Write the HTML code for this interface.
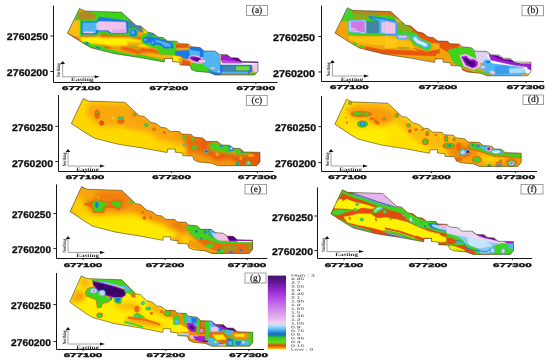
<!DOCTYPE html>
<html><head><meta charset="utf-8"><title>Figure</title>
<style>
html,body{margin:0;padding:0;background:#fff;}
body{width:550px;height:362px;overflow:hidden;}
svg{display:block;}
text{font-family:"Liberation Sans",sans-serif;fill:#111;text-rendering:geometricPrecision;}
.yl{font-weight:bold;font-size:9.8px;stroke:#111;stroke-width:0.3px;}
.xl{font-weight:bold;font-size:5.4px;stroke:#111;stroke-width:0.35px;}
.cp{font-family:"Liberation Serif",serif;font-weight:bold;font-size:5px;fill:#333;}
.pl{font-family:"Liberation Serif",serif;font-size:9.5px;fill:#111;stroke:#111;stroke-width:0.2px;}
.lg{font-size:3px;fill:#333;}
</style></head><body>
<svg width="550" height="362" viewBox="0 0 550 362">
<defs><filter id="bl" x="-5%" y="-5%" width="110%" height="110%"><feGaussianBlur stdDeviation="0.75"/></filter>
<filter id="bl3" x="-5%" y="-5%" width="110%" height="110%"><feGaussianBlur stdDeviation="0.7"/></filter>
<filter id="bl4" filterUnits="userSpaceOnUse" x="0" y="0" width="550" height="362"><feGaussianBlur stdDeviation="1.1"/></filter>
<filter id="bl2" filterUnits="userSpaceOnUse" x="0" y="0" width="550" height="362"><feGaussianBlur stdDeviation="2.2"/></filter>
<linearGradient id="lg" x1="0" y1="0" x2="0" y2="1">
<stop offset="0" stop-color="#45106e"/>
<stop offset="0.08" stop-color="#5e1690"/>
<stop offset="0.2" stop-color="#9428cc"/>
<stop offset="0.3" stop-color="#b24ae4"/>
<stop offset="0.45" stop-color="#cf86ea"/>
<stop offset="0.58" stop-color="#e6b4ec"/>
<stop offset="0.64" stop-color="#f0d0f0"/>
<stop offset="0.68" stop-color="#b4e2f8"/>
<stop offset="0.73" stop-color="#58bcf2"/>
<stop offset="0.79" stop-color="#1a6ad8"/>
<stop offset="0.815" stop-color="#1e8a70"/>
<stop offset="0.84" stop-color="#30c828"/>
<stop offset="0.91" stop-color="#6ed818"/>
<stop offset="0.93" stop-color="#a88414"/>
<stop offset="0.95" stop-color="#e04a10"/>
<stop offset="0.975" stop-color="#f28a0a"/>
<stop offset="1" stop-color="#ffd400"/>
</linearGradient></defs>
<rect width="550" height="362" fill="#fff"/>
<clipPath id="cpa"><polygon points="79.4,8.4 85,11 121.6,12.2 136,25.4 141,26.2 147.5,32 153,33.2 158,37 163,37.6 167.5,41 177,41.2 179,43.6 188.5,44 191,46.6 200.2,47.6 203.8,50.9 215,51.1 219.3,54.4 227.3,54.8 231,57.7 237.8,58 241.8,61.4 258,61.8 258,71.2 254.7,75 215.3,75 209,72.5 196,71.3 191.5,69.4 190,65.5 180,65 180,62.4 172.5,61.7 172.5,58.5 164.8,58.5 164.2,62 140,57.6 115,53.8 91.2,47.9 83.5,43.5 67.4,33.2"/></clipPath>
<g clip-path="url(#cpa)">
<polygon points="79.4,8.4 85,11 121.6,12.2 136,25.4 141,26.2 147.5,32 153,33.2 158,37 163,37.6 167.5,41 177,41.2 179,43.6 188.5,44 191,46.6 200.2,47.6 203.8,50.9 215,51.1 219.3,54.4 227.3,54.8 231,57.7 237.8,58 241.8,61.4 258,61.8 258,71.2 254.7,75 215.3,75 209,72.5 196,71.3 191.5,69.4 190,65.5 180,65 180,62.4 172.5,61.7 172.5,58.5 164.8,58.5 164.2,62 140,57.6 115,53.8 91.2,47.9 83.5,43.5 67.4,33.2" fill="#f0a010"/>
<g filter="url(#bl)">
<polygon points="79.18,8.45 86.18,11.38 121.82,11.89 133.27,20.55 133.27,37.09 78.55,37.09 74.09,21.82" fill="#3fd21f"/>
<polygon points="79.18,8.2 85.55,10.62 82.36,11.64 79.82,11" fill="#f2a20c"/>
<polygon points="67.35,33.02 74.09,21.18 79.82,20.29 80.2,36.46 74.73,35.82" fill="#f8c010" stroke="#f8c010" stroke-width="0.51" stroke-linejoin="round"/>
<polyline points="67.35,33.53 74.73,37.35 84.27,42.18" fill="none" stroke="#e8560e" stroke-width="1.15" stroke-linejoin="round" stroke-linecap="round"/>
<polygon points="80.45,12.65 87.46,11.89 94.46,14.44 94.84,18.25 87.46,19.78 79.18,19.27 77.53,16.09" fill="#b08a1e" stroke="#b08a1e" stroke-width="1.02" stroke-linejoin="round"/>
<polygon points="80.84,36.07 133.27,36.07 133.27,48.55 100.18,48.55 80.84,39" fill="#e8560e"/>
<polygon points="81.09,37.86 133.27,37.35 133.27,43.71 107.82,43.71 93.82,42.18 82.36,40.91" fill="#fff200" stroke="#fff200" stroke-width="0.51" stroke-linejoin="round"/>
<polygon points="81.09,37.35 91.27,37.35 91.27,38.11 81.09,38.36" fill="#f2a20c"/>
<polygon points="107.82,44.47 133.27,43.71 133.27,46.64 110.36,46.64" fill="#f2a20c" stroke="#f2a20c" stroke-width="0.38" stroke-linejoin="round"/>
<polygon points="83,41.16 89.36,41.16 93.82,44.47 104,46.64 104,50.07 83,43.46" fill="#3fd21f" stroke="#3fd21f" stroke-width="0.38" stroke-linejoin="round"/>
<ellipse cx="86.44" cy="43.71" rx="1.53" ry="1.15" fill="#1f78e6" transform="rotate(35 86.44 43.71)"/>
<polygon points="141.4,26.6 149,31 151,36 144,37 141,33" fill="#f2a20c" stroke="#f2a20c" stroke-width="0.8" stroke-linejoin="round"/>
<polygon points="144,30 148,32 149,35 145,34.4" fill="#fff200" stroke="#fff200" stroke-width="0.4" stroke-linejoin="round"/>
<g filter="url(#bl4)">
<polygon points="97,34.4 131,36 144,38 167,50 167,60 131,52.4 115,50 97,40" fill="#f2a20c"/>
<polygon points="121,46.4 139,48 167,57 167,60 135,53 121,49" fill="#e8560e" stroke="#e8560e" stroke-width="0.4" stroke-linejoin="round"/>
<polygon points="131,36 144,38 159,46.4 145,42 131,39" fill="#e8560e" stroke="#e8560e" stroke-width="0.4" stroke-linejoin="round"/>
<polygon points="81,37.6 125,37.6 143,41 155,47 149,48 131,45 105,45 91,43.6 81,41" fill="#fff200" stroke="#fff200" stroke-width="0.8" stroke-linejoin="round"/>
<polygon points="127,42 143,43 159,50 167,54 167,57 145,52.4 129,47" fill="#f2a20c" stroke="#f2a20c" stroke-width="0.6" stroke-linejoin="round"/>
<polygon points="139,45 155,49 167,52.4 167,54 151,51 139,47" fill="#fff200" stroke="#fff200" stroke-width="0.4" stroke-linejoin="round"/>
<polygon points="100,34.4 130,36 130.6,37.6 100,37.2" fill="#e8560e" stroke="#e8560e" stroke-width="0.4" stroke-linejoin="round"/>
</g>
<polyline points="85,43 91,46 115,52.4 139,57.6 167,62.4" fill="none" stroke="#3fd21f" stroke-width="3.2" stroke-linejoin="round" stroke-linecap="round"/>
<ellipse cx="87" cy="43.2" rx="1.6" ry="1.2" fill="#1f78e6"/>
<ellipse cx="98" cy="47.6" rx="2.4" ry="1" fill="#1f78e6" transform="rotate(15 98 47.6)"/>
<polyline points="131,46.4 139,48" fill="none" stroke="#3fd21f" stroke-width="1" stroke-linejoin="round" stroke-linecap="round"/>
<polygon points="80.2,20.29 96.11,20.29 98.66,15.84 126.27,19.53 129.71,21.18 129.71,34.29 110.11,34.93 106.55,32.38 99.55,32.38 97,35.56 80.2,35.56" fill="#3fd21f" stroke="#3fd21f" stroke-width="0.51" stroke-linejoin="round"/>
<polygon points="81.47,21.44 96.62,21.44 99.16,17.11 125.64,20.55 128.44,21.82 128.44,33.02 110.62,33.66 106.8,31.11 98.91,31.11 96.36,34.29 81.47,34.29" fill="#1f78e6" stroke="#1f78e6" stroke-width="0.38" stroke-linejoin="round"/>
<rect x="82.62" y="22.58" width="13.49" height="10.44" rx="1.02" fill="#4fb6f2"/>
<polygon points="97.64,22.07 100.18,21.56 125.64,22.2 126.27,32.26 111.64,32.64 107.82,30.09 97.89,30.09" fill="#f0c2ea" stroke="#f0c2ea" stroke-width="0.64" stroke-linejoin="round"/>
<polygon points="112.27,30.09 125.64,29.46 125.64,32.26 112.91,32.51" fill="#e0a6f0" stroke="#e0a6f0" stroke-width="0.51" stroke-linejoin="round"/>
<rect x="83.38" y="31.49" width="10.44" height="1.78" rx="0.64" fill="#f0c2ea"/>
<polygon points="96.11,23.09 97.64,23.09 97.64,29.46 96.11,29.46" fill="#a8dcf8" stroke="#a8dcf8" stroke-width="0.38" stroke-linejoin="round"/>
<polygon points="129.4,19 135,21.6 141.4,27 142.4,32 138,30.4 130.2,30.4 129.4,24" fill="#3f86a6" stroke="#3f86a6" stroke-width="0.8" stroke-linejoin="round"/>
<ellipse cx="133.4" cy="33" rx="5" ry="5" fill="#3fd21f"/>
<ellipse cx="133.4" cy="33" rx="3.6" ry="3.6" fill="#1f78e6"/>
<ellipse cx="133" cy="32.6" rx="1.8" ry="1.8" fill="#4fb6f2"/>
<polygon points="142.6,35 149,32 167,33 167,48 159,48 151,46 143,43" fill="#3fd21f" stroke="#3fd21f" stroke-width="0.8" stroke-linejoin="round"/>
<polygon points="144.6,38 149,34.4 167,34 167,47 158,45.6 155,46.4 151,44 148,42.4 145,42" fill="#1f78e6" stroke="#1f78e6" stroke-width="0.6" stroke-linejoin="round"/>
<polygon points="151,36 167,35.6 167,45 159,43 156,40 152,39" fill="#4fb6f2" stroke="#4fb6f2" stroke-width="0.4" stroke-linejoin="round"/>
<ellipse cx="146" cy="40" rx="1.2" ry="1.2" fill="#4fb6f2"/>
<ellipse cx="154" cy="41.6" rx="1.4" ry="2.4" fill="#4fb6f2"/>
<g filter="url(#bl4)">
<polygon points="140,42 147.64,43.91 159.09,47.73 159.09,51.55 174.36,54.09 174.36,58.55 164.18,58.55 164.18,61.09 140,56" fill="#f2a20c"/>
<polygon points="140,47.09 151.45,48.36 157.82,50.91 165.46,54.09 156.55,54.09 147.64,52.18 140,52.18" fill="#e8560e" stroke="#e8560e" stroke-width="0.38" stroke-linejoin="round"/>
<polygon points="140,44.55 145.09,44.55 152.73,47.09 147.64,47.47 140,46.45" fill="#fff200" stroke="#fff200" stroke-width="0.25" stroke-linejoin="round"/>
<polygon points="147.64,52.82 165.46,55.36 173.09,56 173.09,57.91 159.09,56.89 147.64,54.09" fill="#f8c010" stroke="#f8c010" stroke-width="0.38" stroke-linejoin="round"/>
</g>
<polyline points="137.45,56.13 152.73,59.44 164.18,61.73" fill="none" stroke="#3fd21f" stroke-width="3.82" stroke-linejoin="round" stroke-linecap="round"/>
<polygon points="141.91,35.64 155.27,35.64 174.36,41.36 176.27,42.64 176.27,55.36 159.09,54.09 157.82,49 147.64,45.82 141.91,42.64" fill="#3fd21f" stroke="#3fd21f" stroke-width="0.38" stroke-linejoin="round"/>
<polygon points="143.18,38.18 147.64,36.53 156.55,37.8 172.46,42.89 173.35,47.98 164.82,48.24 160.36,44.93 155.27,44.16 154,45.69 151.45,44.93 149.55,42 146.36,43.15 143.56,41.62" fill="#1f78e6" stroke="#1f78e6" stroke-width="0.51" stroke-linejoin="round"/>
<polygon points="155.27,39.45 170.55,43.91 170.55,46.45 165.46,46.45 161,43.27 155.91,42" fill="#4fb6f2" stroke="#4fb6f2" stroke-width="0.25" stroke-linejoin="round"/>
<ellipse cx="145.35" cy="39.84" rx="1.27" ry="1.27" fill="#4fb6f2"/>
<ellipse cx="152.47" cy="42.64" rx="1.02" ry="1.53" fill="#4fb6f2"/>
<rect x="175.89" y="44.16" width="12.22" height="3.56" rx="0.51" fill="#e8560e"/>
<polygon points="175.64,50.91 190.27,50.27 190.91,58.55 183.91,58.55 180.73,56 175.64,55.36" fill="#1f78e6" stroke="#1f78e6" stroke-width="0.51" stroke-linejoin="round"/>
<polygon points="189,47.09 199.82,47.73 203.64,50.27 211.27,50.91 211.27,64.27 199.82,63.64 190.27,57.91" fill="#4fb6f2" stroke="#4fb6f2" stroke-width="0.51" stroke-linejoin="round"/>
<polygon points="189,47.09 199.82,47.73 203.64,50.27 208.73,50.65 201.09,51.29 190.91,50.02" fill="#1f78e6" stroke="#1f78e6" stroke-width="0.38" stroke-linejoin="round"/>
<polygon points="173.35,56 179.46,56.64 182,60.46 180.47,61.98 173.35,61.09" fill="#fff200" stroke="#fff200" stroke-width="0.38" stroke-linejoin="round"/>
<polygon points="178.18,58.55 183.91,59.18 184.55,64.27 180.47,64.53 180.22,61.98" fill="#f2a20c" stroke="#f2a20c" stroke-width="0.38" stroke-linejoin="round"/>
<polygon points="182.64,59.82 189.64,61.73 190.91,65.29 182,65.04" fill="#e8560e" stroke="#e8560e" stroke-width="0.38" stroke-linejoin="round"/>
<polygon points="190.27,64.91 194.73,62.36 206.18,63.64 211.27,68.09 211.27,75.73 190.91,70.64" fill="#3fd21f" stroke="#3fd21f" stroke-width="0.38" stroke-linejoin="round"/>
<ellipse cx="196.64" cy="59.44" rx="8.4" ry="3.82" fill="#f0c2ea" transform="rotate(12 196.64 59.44)"/>
<ellipse cx="196" cy="59.18" rx="6.62" ry="2.55" fill="#a01ed2" transform="rotate(14 196 59.18)"/>
<ellipse cx="196.64" cy="59.18" rx="4.45" ry="1.27" fill="#4a0078" transform="rotate(14 196.64 59.18)"/>
<polygon points="203.18,52.09 219.09,52.09 220.36,64.18 221.64,73.09 215.27,73.73 207.64,67.36 202.55,64.18" fill="#4fb6f2" stroke="#4fb6f2" stroke-width="0.51" stroke-linejoin="round"/>
<polygon points="200,48.91 203.18,50.18 203.56,56.55 200,57.18" fill="#1f78e6" stroke="#1f78e6" stroke-width="0.38" stroke-linejoin="round"/>
<polygon points="200,65.46 205.09,66.09 207.64,70.55 214,73.35 214,76.27 200,71.82" fill="#3fd21f" stroke="#3fd21f" stroke-width="0.38" stroke-linejoin="round"/>
<polygon points="207.64,69.91 215.27,72.46 220.36,73.35 220.36,75.64 214,75" fill="#1f78e6" stroke="#1f78e6" stroke-width="0.38" stroke-linejoin="round"/>
<polygon points="220.36,54 230.55,55.02 242,61.38 258.55,61.89 258.55,65.46 221,64.82" fill="#ffffff"/>
<polygon points="221,54.64 227.36,54.64 231.18,57.82 236.91,58.07 241.36,61.13 242,62.91 222.91,62.91 221,60.36" fill="#a01ed2" stroke="#a01ed2" stroke-width="0.38" stroke-linejoin="round"/>
<polygon points="230.55,56.29 238.18,58.07 242.64,61.13 257.91,61.89 257.91,62.91 242,62.4 233.09,59.09" fill="#4a0078" stroke="#4a0078" stroke-width="0.25" stroke-linejoin="round" opacity="0.85"/>
<polygon points="221.64,60.36 242,61.89 242,63.42 221.89,63.16" fill="#c866ea" stroke="#c866ea" stroke-width="0.25" stroke-linejoin="round" opacity="0.7"/>
<polygon points="220.11,64.95 251.55,64.95 252.44,70.55 249,74.11 220.36,74.11" fill="#1f78e6" stroke="#1f78e6" stroke-width="0.51" stroke-linejoin="round"/>
<rect x="222.91" y="66.22" width="12.22" height="5.09" rx="0.76" fill="#3f86a6"/>
<rect x="235.89" y="66.22" width="13.49" height="4.33" rx="0.76" fill="#7ad81e"/>
<polygon points="221.64,71.82 248.36,71.82 247.73,73.86 221.64,73.86" fill="#4fb6f2" stroke="#4fb6f2" stroke-width="0.25" stroke-linejoin="round"/>
<polygon points="252.44,64.18 258.55,64.18 258.55,71.82 256,72.84 252.82,70.55" fill="#f0c2ea" stroke="#f0c2ea" stroke-width="0.38" stroke-linejoin="round"/>
<polygon points="249.38,73.35 256.64,72.84 254.73,75.64 249.38,75.64" fill="#3fd21f" stroke="#3fd21f" stroke-width="0.38" stroke-linejoin="round"/>
<ellipse cx="212.73" cy="68.26" rx="2.29" ry="1.02" fill="#f0c2ea"/>
<ellipse cx="218.84" cy="71.56" rx="1.02" ry="1.02" fill="#f0c2ea"/>
<ellipse cx="201.91" cy="61" rx="3.56" ry="1.53" fill="#f0c2ea"/>
</g>
</g>
<polygon points="79.4,8.4 85,11 121.6,12.2 136,25.4 141,26.2 147.5,32 153,33.2 158,37 163,37.6 167.5,41 177,41.2 179,43.6 188.5,44 191,46.6 200.2,47.6 203.8,50.9 215,51.1 219.3,54.4 227.3,54.8 231,57.7 237.8,58 241.8,61.4 258,61.8 258,71.2 254.7,75 215.3,75 209,72.5 196,71.3 191.5,69.4 190,65.5 180,65 180,62.4 172.5,61.7 172.5,58.5 164.8,58.5 164.2,62 140,57.6 115,53.8 91.2,47.9 83.5,43.5 67.4,33.2" fill="none" stroke="#2a2a1a" stroke-width="0.6" stroke-opacity="0.85"/>
<clipPath id="cpb"><polygon points="347.34,7.7 353.1,10.36 390.74,11.59 405.54,25.08 410.69,25.9 417.37,31.83 423.03,33.06 428.17,36.94 433.31,37.56 437.94,41.03 447.71,41.24 449.76,43.69 459.53,44.1 462.1,46.76 471.56,47.78 475.26,51.16 486.78,51.36 491.2,54.74 499.43,55.15 503.24,58.11 510.23,58.42 514.34,61.89 531,62.3 531,71.91 527.61,75.8 487.09,75.8 480.61,73.24 467.24,72.02 462.62,70.07 461.07,66.09 450.79,65.57 450.79,62.92 443.08,62.2 443.08,58.93 435.16,58.93 434.54,62.51 409.66,58.01 383.95,54.12 359.47,48.09 351.56,43.59 335,33.06"/></clipPath>
<g clip-path="url(#cpb)">
<polygon points="347.34,7.7 353.1,10.36 390.74,11.59 405.54,25.08 410.69,25.9 417.37,31.83 423.03,33.06 428.17,36.94 433.31,37.56 437.94,41.03 447.71,41.24 449.76,43.69 459.53,44.1 462.1,46.76 471.56,47.78 475.26,51.16 486.78,51.36 491.2,54.74 499.43,55.15 503.24,58.11 510.23,58.42 514.34,61.89 531,62.3 531,71.91 527.61,75.8 487.09,75.8 480.61,73.24 467.24,72.02 462.62,70.07 461.07,66.09 450.79,65.57 450.79,62.92 443.08,62.2 443.08,58.93 435.16,58.93 434.54,62.51 409.66,58.01 383.95,54.12 359.47,48.09 351.56,43.59 335,33.06" fill="#f0a010"/>
<g filter="url(#bl)">
<polygon points="347.09,7.73 353.46,11.16 391.64,11.93 399.27,17.27 399.27,36.36 347.09,36.36 341.36,21.09" fill="#3fd21f"/>
<polygon points="351.55,10.65 381.46,11.16 381.46,14.47 366.18,14.73 353.46,13.71" fill="#b08a1e" stroke="#b08a1e" stroke-width="0.51" stroke-linejoin="round"/>
<polygon points="378.91,11.16 391.64,11.67 399.27,16.64 399.27,19.18 389.09,14.73 378.91,14.47" fill="#d8780e" stroke="#d8780e" stroke-width="0.51" stroke-linejoin="round"/>
<polygon points="353.46,14.47 366.18,15.24 370,17.27 366.18,19.82 353.46,19.18" fill="#8fa81e" stroke="#8fa81e" stroke-width="0.51" stroke-linejoin="round"/>
<polygon points="335,32.55 341.36,21.35 348.11,21.09 348.11,35.35 366.18,36.62 399.27,36.62 399.27,50.36 353.46,50.36" fill="#f2a20c" stroke="#f2a20c" stroke-width="0.38" stroke-linejoin="round"/>
<polyline points="335,32.8 343.27,40.18 353.46,48.07" fill="none" stroke="#e8560e" stroke-width="1.02" stroke-linejoin="round" stroke-linecap="round"/>
<polygon points="348.62,36.62 399.27,36.87 399.27,45.91 378.91,45.27 359.82,43.36 350.27,40.18" fill="#fcc010" stroke="#fcc010" stroke-width="0.51" stroke-linejoin="round"/>
<polygon points="364.91,46.55 385.02,50.36 399.27,52.4 399.27,57.36 385.02,55.46 364.91,51" fill="#e8560e" stroke="#e8560e" stroke-width="0.38" stroke-linejoin="round"/>
<polyline points="347.09,8.36 346.84,14.09" fill="none" stroke="#5fc0f0" stroke-width="0.76" stroke-linejoin="round" stroke-linecap="round"/>
<polygon points="349,20.45 364.91,20.07 366.18,21.73 366.18,33.18 363.64,33.82 358.55,32.55 349.64,31.91 348.36,29.36" fill="#a8dcf8" stroke="#a8dcf8" stroke-width="0.64" stroke-linejoin="round"/>
<polyline points="349,20.45 364.91,20.07 366.18,21.73 366.18,33.18 363.64,33.82 358.55,32.55 349.64,31.91 348.36,29.36 349,20.45" fill="none" stroke="#1f78e6" stroke-width="0.51" stroke-linejoin="round" stroke-linecap="round" opacity="0.7"/>
<polygon points="350.91,21.73 364.27,21.47 364.66,32.29 359.18,31.02 351.55,30.26" fill="#d274e6" stroke="#d274e6" stroke-width="0.51" stroke-linejoin="round"/>
<polygon points="351.29,27.46 357.27,29.36 356.64,30.76 351.67,30" fill="#f0c2ea" stroke="#f0c2ea" stroke-width="0.38" stroke-linejoin="round" opacity="0.7"/>
<rect x="366.56" y="21.09" width="12.6" height="12.22" rx="0.38" fill="#3f86a6"/>
<polygon points="368.47,16.25 376.36,17.02 399.27,21.09 399.27,23 378.91,21.09 371.27,19.18" fill="#1f78e6" stroke="#1f78e6" stroke-width="0.51" stroke-linejoin="round"/>
<polygon points="371.91,17.78 399.27,22.11 399.27,23.64 380.18,21.35" fill="#4fb6f2" stroke="#4fb6f2" stroke-width="0.25" stroke-linejoin="round"/>
<polygon points="379.16,19.82 399.27,23 399.27,34.46 379.16,33.82" fill="#4fb6f2" stroke="#4fb6f2" stroke-width="0.38" stroke-linejoin="round"/>
<polyline points="379.42,20.84 379.42,33.82 399.27,34.46" fill="none" stroke="#3c9cee" stroke-width="0.38" stroke-linejoin="round" stroke-linecap="round"/>
<polygon points="381.71,22.11 399.27,23.64 399.27,32.55 381.71,32.55" fill="#f0c2ea" stroke="#f0c2ea" stroke-width="0.38" stroke-linejoin="round"/>
<ellipse cx="354.73" cy="44" rx="2.29" ry="1.78" fill="#3fd21f"/>
<ellipse cx="361.35" cy="46.8" rx="2.8" ry="1.53" fill="#3fd21f"/>
<polygon points="395.18,17.64 410.46,26.29 456.27,44.36 456.27,58.36 385,58.36 385,35.46 396.45,35.46" fill="#f2a20c"/>
<polygon points="404.09,22.09 410.46,26.29 423.18,33.55 435.91,39.91 444.82,40.55 451.18,43.73 456.27,44.11 456.27,48.18 435.91,44.36 423.18,39.27 411.73,31.64" fill="#e8560e" stroke="#e8560e" stroke-width="0.51" stroke-linejoin="round"/>
<polygon points="397.73,22.47 404.09,22.73 412.36,29.09 411.73,34.18 397.73,34.18" fill="#8fa81e" stroke="#8fa81e" stroke-width="0.64" stroke-linejoin="round"/>
<polygon points="397.73,30.36 411.73,31.64 411.73,34.82 397.73,34.82" fill="#3fd21f" stroke="#3fd21f" stroke-width="0.38" stroke-linejoin="round"/>
<polygon points="385,36.09 396.45,39.27 399,46.91 385,48.18" fill="#ffc812" stroke="#ffc812" stroke-width="0.64" stroke-linejoin="round"/>
<polygon points="396.45,39.27 410.46,41.82 414.27,48.18 399,46.91" fill="#f8c010" stroke="#f8c010" stroke-width="0.51" stroke-linejoin="round"/>
<polygon points="385,49.46 410.46,50.73 435.91,53.27 435.91,56.07 385,53.91" fill="#e8560e" stroke="#e8560e" stroke-width="0.38" stroke-linejoin="round"/>
<polygon points="414.27,48.18 427,52 444.82,48.18 444.82,53.27 423.18,53.91" fill="#e8560e" stroke="#e8560e" stroke-width="0.38" stroke-linejoin="round"/>
<polyline points="398.36,47.8 408.55,47.8" fill="none" stroke="#8fa81e" stroke-width="1.15" stroke-linejoin="round" stroke-linecap="round"/>
<polygon points="433.36,43.09 444.82,43.73 444.82,48.18 433.36,48.18" fill="#f8c010" stroke="#f8c010" stroke-width="0.64" stroke-linejoin="round" opacity="0.6"/>
<polygon points="444.56,49.71 456.27,48.18 456.27,57.09 444.56,57.09" fill="#3fd21f" stroke="#3fd21f" stroke-width="0.64" stroke-linejoin="round"/>
<polygon points="385,19.16 397.22,22.47 397.22,34.82 385,34.82" fill="#4fb6f2" stroke="#4fb6f2" stroke-width="0.38" stroke-linejoin="round"/>
<polyline points="385,19.42 396.84,22.73 396.84,34.44 385,34.44" fill="none" stroke="#1f78e6" stroke-width="0.51" stroke-linejoin="round" stroke-linecap="round"/>
<polygon points="385,21.2 395.18,23.36 395.18,33.55 385,33.55" fill="#f0c2ea" stroke="#f0c2ea" stroke-width="0.25" stroke-linejoin="round"/>
<rect x="396.2" y="34.56" width="12.73" height="4.45" rx="1.78" fill="#4fb6f2"/>
<rect x="398.36" y="35.84" width="8.53" height="1.91" rx="0.89" fill="#f0c2ea"/>
<polyline points="413.64,36.73 416.82,41.18 427,46.27" fill="none" stroke="#3fd21f" stroke-width="8.91" stroke-linejoin="round" stroke-linecap="round"/>
<polyline points="414.53,37.75 417.46,41.18 426.36,45.64" fill="none" stroke="#4fb6f2" stroke-width="5.85" stroke-linejoin="round" stroke-linecap="round"/>
<polyline points="414.91,38.64 417.84,41.56 425.73,45" fill="none" stroke="#d8eefc" stroke-width="3.05" stroke-linejoin="round" stroke-linecap="round"/>
<polygon points="440,39 450,43.6 458,44 460,48.4 452,58 440,52" fill="#e8560e" stroke="#e8560e" stroke-width="0.6" stroke-linejoin="round"/>
<polygon points="440,48 450,54 452,63 440,60" fill="#f2a20c" stroke="#f2a20c" stroke-width="0.6" stroke-linejoin="round"/>
<polygon points="448,50 460,47.6 470,48 473,51 480,51.6 476,70 462,67 454,63" fill="#3fd21f" stroke="#3fd21f" stroke-width="0.8" stroke-linejoin="round"/>
<polygon points="452,64 462,67 476,71 490,74.4 494,76.4 480,76.4 462,70" fill="#f2a20c" stroke="#f2a20c" stroke-width="0.8" stroke-linejoin="round"/>
<polyline points="462,66.4 478,71 489,74.4" fill="none" stroke="#3fd21f" stroke-width="1.8" stroke-linejoin="round" stroke-linecap="round"/>
<polyline points="462,69.2 474,72.8 487,76.4" fill="none" stroke="#e8560e" stroke-width="1.4" stroke-linejoin="round" stroke-linecap="round"/>
<polygon points="475,51.6 486.4,52 492.4,55.6 490,63 478,62" fill="#dcd4f2" stroke="#dcd4f2" stroke-width="0.8" stroke-linejoin="round"/>
<polygon points="485,60 500,62 524,65 526,73 520,75 495,75.6 487,72.4 480,68" fill="#4fb6f2" stroke="#4fb6f2" stroke-width="1" stroke-linejoin="round"/>
<polygon points="495,66.4 509,65.6 510,73 496,73.6" fill="#3c9cee" stroke="#3c9cee" stroke-width="0.8" stroke-linejoin="round"/>
<polygon points="509,69 524,68 524,72.4 510,73" fill="#a8dcf8" stroke="#a8dcf8" stroke-width="0.6" stroke-linejoin="round"/>
<polygon points="487,55 500,56 532,63.6 532,73 526,73 524,67 492,63" fill="#ffffff" stroke="#ffffff" stroke-width="0.6" stroke-linejoin="round"/>
<polygon points="489,54.4 493,55.6 498,56 504,59.4 511,60 516,63.4 531,64 531,67 516,65.6 500,62 491,60" fill="#a01ed2" stroke="#a01ed2" stroke-width="0.6" stroke-linejoin="round"/>
<polygon points="492.4,55.6 498,56 504,59.4 511,60 516,63.4 520,63.6 510,61.6 500,59" fill="#4a0078" stroke="#4a0078" stroke-width="0.4" stroke-linejoin="round" opacity="0.8"/>
<polygon points="525.6,64 531.2,64 531.2,70 528,69" fill="#a01ed2" stroke="#a01ed2" stroke-width="0.4" stroke-linejoin="round"/>
<polygon points="460,55.6 466,54.4 473,58 479,60 480,66 474,69.6 464,66" fill="#f0c2ea" stroke="#f0c2ea" stroke-width="1" stroke-linejoin="round"/>
<polygon points="461.6,57 466,56 470,59.6 474,59.6 477.6,62 477,66 473,68 466,65" fill="#a01ed2" stroke="#a01ed2" stroke-width="0.8" stroke-linejoin="round"/>
<polygon points="463.6,58 466.4,58 470,61.6 474.4,61.6 475,65.6 472,66.8 467,63.6" fill="#4a0078" stroke="#4a0078" stroke-width="0.6" stroke-linejoin="round"/>
<ellipse cx="483" cy="67.2" rx="2.4" ry="1.4" fill="#f0c2ea"/>
<ellipse cx="492.4" cy="72.4" rx="2.8" ry="1.6" fill="#f0c2ea" transform="rotate(20 492.4 72.4)"/>
<ellipse cx="488" cy="62" rx="2" ry="1.2" fill="#1f78e6"/>
</g>
</g>
<polygon points="347.34,7.7 353.1,10.36 390.74,11.59 405.54,25.08 410.69,25.9 417.37,31.83 423.03,33.06 428.17,36.94 433.31,37.56 437.94,41.03 447.71,41.24 449.76,43.69 459.53,44.1 462.1,46.76 471.56,47.78 475.26,51.16 486.78,51.36 491.2,54.74 499.43,55.15 503.24,58.11 510.23,58.42 514.34,61.89 531,62.3 531,71.91 527.61,75.8 487.09,75.8 480.61,73.24 467.24,72.02 462.62,70.07 461.07,66.09 450.79,65.57 450.79,62.92 443.08,62.2 443.08,58.93 435.16,58.93 434.54,62.51 409.66,58.01 383.95,54.12 359.47,48.09 351.56,43.59 335,33.06" fill="none" stroke="#2a2a1a" stroke-width="0.6" stroke-opacity="0.85"/>
<clipPath id="cpc"><polygon points="83.18,98.5 88.72,101.12 124.96,102.33 139.22,115.65 144.17,116.46 150.6,122.31 156.05,123.52 161,127.36 165.95,127.96 170.4,131.39 179.81,131.6 181.79,134.02 191.19,134.42 193.67,137.04 202.78,138.05 206.34,141.38 217.43,141.58 221.69,144.91 229.61,145.32 233.27,148.24 240,148.55 243.96,151.98 260,152.38 260,161.87 256.73,165.7 217.73,165.7 211.49,163.18 198.62,161.97 194.16,160.05 192.68,156.11 182.78,155.61 182.78,152.99 175.35,152.28 175.35,149.05 167.73,149.05 167.14,152.58 143.18,148.14 118.43,144.31 94.86,138.36 87.24,133.92 71.3,123.52"/></clipPath>
<g clip-path="url(#cpc)">
<polygon points="83.18,98.5 88.72,101.12 124.96,102.33 139.22,115.65 144.17,116.46 150.6,122.31 156.05,123.52 161,127.36 165.95,127.96 170.4,131.39 179.81,131.6 181.79,134.02 191.19,134.42 193.67,137.04 202.78,138.05 206.34,141.38 217.43,141.58 221.69,144.91 229.61,145.32 233.27,148.24 240,148.55 243.96,151.98 260,152.38 260,161.87 256.73,165.7 217.73,165.7 211.49,163.18 198.62,161.97 194.16,160.05 192.68,156.11 182.78,155.61 182.78,152.99 175.35,152.28 175.35,149.05 167.73,149.05 167.14,152.58 143.18,148.14 118.43,144.31 94.86,138.36 87.24,133.92 71.3,123.52" fill="#f8c000"/>
<g filter="url(#bl2)">
<polygon points="59.64,87.64 269.64,87.64 269.64,183.09 59.64,183.09" fill="#ffd400"/>
<polygon points="93.36,104.18 104.18,103.55 127.09,104.18 139.82,111.82 139.82,124.55 119.46,125.82 104.18,126.46 95.27,123.91 92.09,114.36" fill="#fbb40a" stroke="#fbb40a" stroke-width="1.27" stroke-linejoin="round"/>
<polygon points="90,104.5 130,106 165,128 185,135 190,146 160,139 130,128 100,121 87,115" fill="#f9a80c" stroke="#f9a80c" stroke-width="2" stroke-linejoin="round"/>
<polygon points="80,127.35 97.82,130.91 116.91,130.91 137.27,130.27 155.09,136 155.09,147.46 97.82,144.91" fill="#ffd800" stroke="#ffd800" stroke-width="0.76" stroke-linejoin="round"/>
<polygon points="130,106.27 137.64,114.55 144,117.09 150.36,122.82 163.09,127.91 178.36,130.46 201.27,137.46 201.27,143.18 168.18,134.91 149.09,129.18 130,119" fill="#f8a408" stroke="#f8a408" stroke-width="0.51" stroke-linejoin="round"/>
<polygon points="178.36,132.36 191.09,134.27 201.27,137.46 201.27,153.36 189.82,153.36 187.27,143.18" fill="#f28410" stroke="#f28410" stroke-width="1.27" stroke-linejoin="round"/>
<polygon points="183.46,134.91 191.09,134.91 201.27,137.46 208.91,143.18 208.91,155.91 187.27,155.91 186,143.18" fill="#ec6a0c" stroke="#ec6a0c" stroke-width="1.27" stroke-linejoin="round"/>
<polygon points="200.09,136.45 266.27,136.45 266.27,168.27 214.09,168.27 202.64,150.46" fill="#e8580e"/>
<polygon points="214.09,161.91 228.09,159.36 237,163.18 237,168.27 216.64,168.27" fill="#f59a08" stroke="#f59a08" stroke-width="0.51" stroke-linejoin="round"/>
<polygon points="189.91,152.36 205.18,154.91 214.09,160 217.91,167.64 195,163.18" fill="#f59a08" stroke="#f59a08" stroke-width="1.02" stroke-linejoin="round"/>
<polygon points="208.36,146 214.09,142.18 219.82,145.11 228.09,145.36 231.91,148.93 238.27,149.18 241.46,152.24 251.64,152.75 245.91,154.53 233.18,153.26 224.27,151.47 214.09,150.46" fill="#3fd21f" stroke="#3fd21f" stroke-width="0.64" stroke-linejoin="round"/>
</g>
<g filter="url(#bl)">
<ellipse cx="97.18" cy="114.36" rx="2.8" ry="4.84" fill="#ec6a0c"/>
<ellipse cx="97.18" cy="114.36" rx="1.4" ry="2.42" fill="#e85a10"/>
<ellipse cx="96.93" cy="112.71" rx="1.15" ry="1.15" fill="#3fd21f"/>
<ellipse cx="101.64" cy="123.02" rx="2.8" ry="2.8" fill="#ec6a0c"/>
<ellipse cx="101.64" cy="123.02" rx="1.87" ry="1.87" fill="#e04a10"/>
<ellipse cx="101.64" cy="123.02" rx="0.93" ry="0.93" fill="#b08020"/>
<ellipse cx="120.98" cy="121.36" rx="3.56" ry="2.8" fill="#ec6a0c"/>
<ellipse cx="120.73" cy="118.18" rx="3.31" ry="1.91" fill="#3fd21f"/>
<ellipse cx="120.73" cy="118.18" rx="2.21" ry="1.27" fill="#30c060"/>
<ellipse cx="120.73" cy="118.18" rx="1.1" ry="0.64" fill="#4fb6f2"/>
<ellipse cx="134.73" cy="114.62" rx="1.65" ry="1.65" fill="#ec6a0c"/>
<ellipse cx="134.73" cy="114.62" rx="1.1" ry="1.1" fill="#3fd21f"/>
<ellipse cx="134.73" cy="114.62" rx="0.55" ry="0.55" fill="#3fd21f"/>
<ellipse cx="113.09" cy="117.8" rx="1.78" ry="1.02" fill="#ffd800"/>
<ellipse cx="134.45" cy="114.55" rx="2.16" ry="2.16" fill="#ec6a0c"/>
<ellipse cx="134.45" cy="114.55" rx="1.44" ry="1.44" fill="#3fd21f"/>
<ellipse cx="134.45" cy="114.55" rx="0.72" ry="0.72" fill="#3fd21f"/>
<ellipse cx="146.29" cy="124.98" rx="2.16" ry="2.16" fill="#3fd21f"/>
<ellipse cx="146.29" cy="124.98" rx="1.44" ry="1.44" fill="#3fd21f"/>
<ellipse cx="146.29" cy="124.98" rx="0.72" ry="0.72" fill="#4fb6f2"/>
<ellipse cx="153.93" cy="129.18" rx="1.78" ry="1.78" fill="#ec6a0c"/>
<ellipse cx="153.93" cy="129.18" rx="0.89" ry="0.89" fill="#3fd21f"/>
<ellipse cx="164.36" cy="132.36" rx="1.65" ry="1.65" fill="#ec6a0c"/>
<ellipse cx="184.09" cy="137.84" rx="1.53" ry="2.55" fill="#3fd21f"/>
<ellipse cx="192.36" cy="139.36" rx="1.65" ry="1.65" fill="#3fd21f"/>
<ellipse cx="184.47" cy="144.46" rx="1.53" ry="1.53" fill="#3fd21f"/>
<ellipse cx="184.47" cy="144.46" rx="0.76" ry="0.76" fill="#4fb6f2"/>
<ellipse cx="194.27" cy="147.64" rx="2.42" ry="2.42" fill="#3fd21f"/>
<polygon points="209.64,145.36 214.09,142.82 219.82,145.36 228.09,145.62 231.91,149.18 238.27,149.44 241.46,152.49 251,153 245.91,154.02 233.18,152.75 224.27,150.96 214.09,149.44" fill="#3fd21f" stroke="#3fd21f" stroke-width="0.38" stroke-linejoin="round"/>
<ellipse cx="217.27" cy="154.53" rx="2.04" ry="2.04" fill="#f59a08"/>
<ellipse cx="251" cy="155.55" rx="3.31" ry="1.53" fill="#f59a08"/>
<ellipse cx="240.82" cy="158.35" rx="1.53" ry="2.04" fill="#f59a08"/>
<ellipse cx="233.18" cy="152.36" rx="1.91" ry="1.02" fill="#f59a08"/>
<ellipse cx="221.47" cy="146" rx="1.53" ry="1.53" fill="#1f78e6"/>
<ellipse cx="221.47" cy="146" rx="0.76" ry="0.76" fill="#4fb6f2"/>
<ellipse cx="231.27" cy="148.29" rx="2.8" ry="2.8" fill="#1f78e6"/>
<ellipse cx="231.27" cy="148.29" rx="1.87" ry="1.87" fill="#4fb6f2"/>
<ellipse cx="231.27" cy="148.29" rx="0.93" ry="0.93" fill="#f0c2ea"/>
<ellipse cx="242.35" cy="151.35" rx="1.53" ry="1.53" fill="#1f78e6"/>
<ellipse cx="242.35" cy="151.35" rx="0.76" ry="0.76" fill="#4fb6f2"/>
<ellipse cx="206.45" cy="151.09" rx="2.42" ry="2.42" fill="#3fd21f"/>
<ellipse cx="206.45" cy="151.09" rx="1.81" ry="1.81" fill="#4fb6f2"/>
<ellipse cx="206.45" cy="151.09" rx="1.21" ry="1.21" fill="#a01ed2"/>
<ellipse cx="206.45" cy="151.09" rx="0.6" ry="0.6" fill="#a01ed2"/>
<ellipse cx="248.46" cy="162.93" rx="2.55" ry="2.55" fill="#3fd21f"/>
<ellipse cx="248.46" cy="162.93" rx="1.7" ry="1.7" fill="#4fb6f2"/>
<ellipse cx="248.46" cy="162.93" rx="0.85" ry="0.85" fill="#f0c2ea"/>
<ellipse cx="237.64" cy="163.82" rx="2.16" ry="2.16" fill="#3fd21f"/>
<ellipse cx="237.64" cy="163.82" rx="1.44" ry="1.44" fill="#1f78e6"/>
<ellipse cx="237.64" cy="163.82" rx="0.72" ry="0.72" fill="#4fb6f2"/>
<ellipse cx="195" cy="148.55" rx="1.27" ry="1.27" fill="#3fd21f"/>
</g>
</g>
<polygon points="83.18,98.5 88.72,101.12 124.96,102.33 139.22,115.65 144.17,116.46 150.6,122.31 156.05,123.52 161,127.36 165.95,127.96 170.4,131.39 179.81,131.6 181.79,134.02 191.19,134.42 193.67,137.04 202.78,138.05 206.34,141.38 217.43,141.58 221.69,144.91 229.61,145.32 233.27,148.24 240,148.55 243.96,151.98 260,152.38 260,161.87 256.73,165.7 217.73,165.7 211.49,163.18 198.62,161.97 194.16,160.05 192.68,156.11 182.78,155.61 182.78,152.99 175.35,152.28 175.35,149.05 167.73,149.05 167.14,152.58 143.18,148.14 118.43,144.31 94.86,138.36 87.24,133.92 71.3,123.52" fill="none" stroke="#2a2a1a" stroke-width="0.6" stroke-opacity="0.85"/>
<clipPath id="cpd"><polygon points="346.54,99.3 352.01,101.92 387.81,103.13 401.89,116.43 406.78,117.23 413.13,123.08 418.51,124.29 423.4,128.11 428.29,128.72 432.69,132.14 441.98,132.35 443.94,134.76 453.23,135.17 455.68,137.79 464.67,138.79 468.19,142.12 479.15,142.32 483.35,145.65 491.18,146.05 494.79,148.97 501.45,149.27 505.36,152.7 521.2,153.1 521.2,162.57 517.97,166.4 479.44,166.4 473.28,163.88 460.57,162.67 456.17,160.76 454.7,156.83 444.92,156.32 444.92,153.71 437.58,153 437.58,149.78 430.05,149.78 429.47,153.3 405.8,148.87 381.35,145.04 358.08,139.1 350.55,134.66 334.8,124.29"/></clipPath>
<g clip-path="url(#cpd)">
<polygon points="346.54,99.3 352.01,101.92 387.81,103.13 401.89,116.43 406.78,117.23 413.13,123.08 418.51,124.29 423.4,128.11 428.29,128.72 432.69,132.14 441.98,132.35 443.94,134.76 453.23,135.17 455.68,137.79 464.67,138.79 468.19,142.12 479.15,142.32 483.35,145.65 491.18,146.05 494.79,148.97 501.45,149.27 505.36,152.7 521.2,153.1 521.2,162.57 517.97,166.4 479.44,166.4 473.28,163.88 460.57,162.67 456.17,160.76 454.7,156.83 444.92,156.32 444.92,153.71 437.58,153 437.58,149.78 430.05,149.78 429.47,153.3 405.8,148.87 381.35,145.04 358.08,139.1 350.55,134.66 334.8,124.29" fill="#f8c000"/>
<g filter="url(#bl2)">
<polygon points="323.64,87.64 546.37,87.64 546.37,183.09 323.64,183.09" fill="#ffdc00"/>
<polygon points="349.09,108.25 368.18,107.36 391.09,109.27 401.27,114.36 391.09,121.36 383.46,124.55 372,123.27 368.18,118.18 352.91,117.55 347.82,113.09" fill="#f89a0a" stroke="#f89a0a" stroke-width="1.27" stroke-linejoin="round"/>
<polygon points="352.91,102.91 386.64,102.91 401.27,111.82 401.27,116.91 380.91,108 355.46,106.73" fill="#fbb60a" stroke="#fbb60a" stroke-width="0.64" stroke-linejoin="round"/>
<polygon points="345.27,127.35 361.82,130.27 380.91,129 401.27,128.36 419.09,136 419.09,147.46 361.82,144.91" fill="#ffec00" stroke="#ffec00" stroke-width="0.76" stroke-linejoin="round"/>
<polygon points="392,108.18 400.91,117.09 411.09,123.45 426.36,128.55 440.36,131.73 451.82,135.55 463.27,138.73 463.27,153.36 436.55,148.91 423.82,147 411.09,136.82 399.64,125.36" fill="#fcbc08" stroke="#fcbc08" stroke-width="0.76" stroke-linejoin="round"/>
<polygon points="389.45,129.18 404.73,134.27 417.46,141.91 428.91,148.91 428.91,155.91 389.45,147" fill="#ffe000" stroke="#ffe000" stroke-width="0.76" stroke-linejoin="round"/>
<polygon points="455,137.73 526.27,137.73 526.27,168.27 470.27,168.27 455,163.18" fill="#f8a408"/>
<polygon points="447.36,144.09 462.64,144.09 471.55,149.18 486.82,152.36 495.73,155.55 486.82,158.09 470.27,155.55 460.09,161.91 447.36,156.82" fill="#ee7a0c" stroke="#ee7a0c" stroke-width="0.51" stroke-linejoin="round" opacity="0.75"/>
<polygon points="493.18,160.64 508.46,158.09 518.64,159.36 518.64,165.73 495.73,166.36" fill="#ee7a0c" stroke="#ee7a0c" stroke-width="0.51" stroke-linejoin="round" opacity="0.7"/>
<polygon points="474.09,152.36 493.18,155.55 505.91,157.46 503.36,161.91 486.82,163.18 480.46,156.82" fill="#ffd000" stroke="#ffd000" stroke-width="0.51" stroke-linejoin="round"/>
</g>
<g filter="url(#bl)">
<ellipse cx="361.18" cy="113.98" rx="10.82" ry="3.05" fill="#ec6a0c"/>
<ellipse cx="357.36" cy="113.73" rx="4.58" ry="1.65" fill="#3fd21f"/>
<ellipse cx="365.89" cy="113.85" rx="3.05" ry="1.53" fill="#3fd21f"/>
<ellipse cx="350.11" cy="103.16" rx="1.91" ry="1.91" fill="#ec6a0c"/>
<ellipse cx="350.11" cy="103.16" rx="1.27" ry="1.27" fill="#3fd21f"/>
<ellipse cx="350.11" cy="103.16" rx="0.64" ry="0.64" fill="#3fd21f"/>
<ellipse cx="362.46" cy="124.04" rx="5.6" ry="3.82" fill="#ec6a0c"/>
<ellipse cx="362.46" cy="124.04" rx="4.84" ry="3.18" fill="#3fd21f"/>
<ellipse cx="362.46" cy="124.04" rx="3.22" ry="2.12" fill="#1f78e6"/>
<ellipse cx="362.46" cy="124.04" rx="1.61" ry="1.06" fill="#4fb6f2"/>
<ellipse cx="396.82" cy="115.38" rx="2.16" ry="2.16" fill="#ec6a0c"/>
<ellipse cx="396.82" cy="115.38" rx="1.44" ry="1.44" fill="#3fd21f"/>
<ellipse cx="396.82" cy="115.38" rx="0.72" ry="0.72" fill="#3fd21f"/>
<ellipse cx="384.09" cy="119.07" rx="1.78" ry="1.78" fill="#ec6a0c"/>
<ellipse cx="384.09" cy="119.07" rx="0.89" ry="0.89" fill="#3fd21f"/>
<ellipse cx="375.56" cy="121.11" rx="1.65" ry="1.65" fill="#ec6a0c"/>
<ellipse cx="375.56" cy="121.11" rx="0.83" ry="0.83" fill="#3fd21f"/>
<ellipse cx="347.18" cy="109.27" rx="0.89" ry="0.89" fill="#ec6a0c"/>
<ellipse cx="347.18" cy="122.64" rx="1.02" ry="1.02" fill="#ec6a0c"/>
<ellipse cx="345.91" cy="117.55" rx="0.76" ry="0.76" fill="#ec6a0c"/>
<ellipse cx="377.09" cy="122.64" rx="2.8" ry="1.78" fill="#ec6a0c" transform="rotate(30 377.09 122.64)"/>
<ellipse cx="372" cy="118.82" rx="2.55" ry="1.27" fill="#ec6a0c"/>
<ellipse cx="396.84" cy="115.56" rx="2.16" ry="2.16" fill="#ec6a0c"/>
<ellipse cx="396.84" cy="115.56" rx="1.44" ry="1.44" fill="#3fd21f"/>
<ellipse cx="396.84" cy="115.56" rx="0.72" ry="0.72" fill="#3fd21f"/>
<ellipse cx="408.55" cy="125.36" rx="2.42" ry="2.42" fill="#ec6a0c"/>
<ellipse cx="408.55" cy="125.36" rx="1.61" ry="1.61" fill="#3fd21f"/>
<ellipse cx="408.55" cy="125.36" rx="0.81" ry="0.81" fill="#3fd21f"/>
<ellipse cx="409.82" cy="131.09" rx="2.04" ry="2.04" fill="#ec6a0c"/>
<ellipse cx="409.82" cy="131.09" rx="1.02" ry="1.02" fill="#c86a10"/>
<ellipse cx="415.93" cy="129.56" rx="1.65" ry="1.65" fill="#ec6a0c"/>
<ellipse cx="415.93" cy="129.56" rx="0.83" ry="0.83" fill="#3fd21f"/>
<ellipse cx="427.26" cy="133.64" rx="2.04" ry="2.55" fill="#ec6a0c"/>
<ellipse cx="428.02" cy="131.98" rx="1.27" ry="1.27" fill="#3fd21f"/>
<ellipse cx="425.35" cy="141.66" rx="3.44" ry="3.44" fill="#ec6a0c"/>
<ellipse cx="425.35" cy="141.66" rx="2.29" ry="2.29" fill="#3fd21f"/>
<ellipse cx="425.35" cy="141.66" rx="1.15" ry="1.15" fill="#3fd21f"/>
<ellipse cx="446.09" cy="138.73" rx="2.29" ry="3.56" fill="#ec6a0c"/>
<ellipse cx="446.09" cy="138.73" rx="1.27" ry="2.55" fill="#3fd21f"/>
<ellipse cx="453.98" cy="139.62" rx="1.78" ry="1.78" fill="#ec6a0c"/>
<ellipse cx="453.98" cy="139.62" rx="1.19" ry="1.19" fill="#3fd21f"/>
<ellipse cx="453.98" cy="139.62" rx="0.59" ry="0.59" fill="#3fd21f"/>
<ellipse cx="448.64" cy="145.73" rx="6.36" ry="3.05" fill="#ec6a0c"/>
<ellipse cx="449.27" cy="145.47" rx="4.58" ry="2.04" fill="#3fd21f"/>
<ellipse cx="449.27" cy="145.47" rx="2.29" ry="1.02" fill="#1f78e6"/>
<ellipse cx="435.91" cy="134.91" rx="1.78" ry="1.02" fill="#ec6a0c"/>
<ellipse cx="422.55" cy="129.82" rx="1.53" ry="1.02" fill="#ec6a0c"/>
<polygon points="467.09,146 471.55,142.82 480.46,145.36 489.36,146 492.55,149.18 500.18,149.44 504,153 514.82,153.64 521.18,155.55 521.18,158.35 511,157.46 493.18,156.18 480.46,151.73 469,149.18" fill="#ec6a0c" stroke="#ec6a0c" stroke-width="0.76" stroke-linejoin="round"/>
<polygon points="468.36,145.36 471.55,143.58 480.46,145.62 489.36,146.13 492.55,149.18 500.18,149.44 504,153 514.82,153.64 521.18,154.91 521.18,157.46 511,156.31 493.18,155.04 480.46,150.46 470.27,147.91" fill="#3fd21f" stroke="#3fd21f" stroke-width="0.51" stroke-linejoin="round"/>
<polygon points="480.46,146.38 489.36,146.64 492.55,149.44 500.18,149.82 503.11,153 497,153.76 486.82,151.09 481.09,148.55" fill="#4fb6f2" stroke="#4fb6f2" stroke-width="0.51" stroke-linejoin="round"/>
<ellipse cx="488.73" cy="148.8" rx="2.55" ry="2.55" fill="#f0c2ea"/>
<ellipse cx="488.73" cy="148.8" rx="1.7" ry="1.7" fill="#a01ed2"/>
<ellipse cx="488.73" cy="148.8" rx="0.85" ry="0.85" fill="#a01ed2"/>
<ellipse cx="495.98" cy="151.86" rx="3.82" ry="1.27" fill="#ffffff"/>
<ellipse cx="495.98" cy="151.86" rx="2.29" ry="0.76" fill="#f0c2ea"/>
<ellipse cx="477.91" cy="146" rx="1.65" ry="1.65" fill="#1f78e6"/>
<ellipse cx="477.91" cy="146" rx="0.83" ry="0.83" fill="#4fb6f2"/>
<ellipse cx="472.82" cy="145.36" rx="1.15" ry="1.15" fill="#1f78e6"/>
<ellipse cx="464.55" cy="152.36" rx="5.73" ry="4.58" fill="#ec6a0c"/>
<ellipse cx="462.89" cy="152.36" rx="3.82" ry="3.82" fill="#3fd21f"/>
<ellipse cx="462.89" cy="152.36" rx="2.86" ry="2.86" fill="#4fb6f2"/>
<ellipse cx="462.89" cy="152.36" rx="1.91" ry="1.91" fill="#f0c2ea"/>
<ellipse cx="462.89" cy="152.36" rx="0.95" ry="0.95" fill="#f0c2ea"/>
<ellipse cx="467.73" cy="151.73" rx="1.91" ry="1.91" fill="#4fb6f2"/>
<ellipse cx="467.73" cy="151.73" rx="1.27" ry="1.27" fill="#4a0078"/>
<ellipse cx="467.73" cy="151.73" rx="0.64" ry="0.64" fill="#4a0078"/>
<ellipse cx="476.64" cy="159.62" rx="5.09" ry="3.82" fill="#ec6a0c"/>
<ellipse cx="476.64" cy="159.62" rx="4.07" ry="2.93" fill="#3fd21f"/>
<ellipse cx="476.64" cy="159.62" rx="2.72" ry="1.95" fill="#3fd21f"/>
<ellipse cx="476.64" cy="159.62" rx="1.36" ry="0.98" fill="#40c890"/>
<ellipse cx="489.36" cy="165.98" rx="2.29" ry="2.29" fill="#3fd21f"/>
<ellipse cx="489.36" cy="165.98" rx="1.15" ry="1.15" fill="#1f78e6"/>
<ellipse cx="498.91" cy="164.71" rx="3.31" ry="3.31" fill="#ec6a0c"/>
<ellipse cx="498.91" cy="165.09" rx="2.42" ry="2.42" fill="#3fd21f"/>
<ellipse cx="498.91" cy="165.09" rx="1.61" ry="1.61" fill="#4fb6f2"/>
<ellipse cx="498.91" cy="165.09" rx="0.81" ry="0.81" fill="#a01ed2"/>
<ellipse cx="511.64" cy="162.93" rx="5.35" ry="4.07" fill="#ec6a0c"/>
<ellipse cx="511.64" cy="163.18" rx="4.2" ry="3.05" fill="#3fd21f"/>
<ellipse cx="511.64" cy="163.18" rx="3.15" ry="2.29" fill="#4fb6f2"/>
<ellipse cx="511.64" cy="163.18" rx="2.1" ry="1.53" fill="#f0c2ea"/>
<ellipse cx="511.64" cy="163.18" rx="1.05" ry="0.76" fill="#a01ed2"/>
<ellipse cx="500.82" cy="161.02" rx="1.78" ry="1.78" fill="#ec6a0c"/>
<ellipse cx="500.82" cy="161.02" rx="0.89" ry="0.89" fill="#90a020"/>
<ellipse cx="458.82" cy="146.64" rx="2.55" ry="3.82" fill="#ec6a0c"/>
<ellipse cx="458.82" cy="159.36" rx="3.18" ry="1.91" fill="#ec6a0c"/>
</g>
</g>
<polygon points="346.54,99.3 352.01,101.92 387.81,103.13 401.89,116.43 406.78,117.23 413.13,123.08 418.51,124.29 423.4,128.11 428.29,128.72 432.69,132.14 441.98,132.35 443.94,134.76 453.23,135.17 455.68,137.79 464.67,138.79 468.19,142.12 479.15,142.32 483.35,145.65 491.18,146.05 494.79,148.97 501.45,149.27 505.36,152.7 521.2,153.1 521.2,162.57 517.97,166.4 479.44,166.4 473.28,163.88 460.57,162.67 456.17,160.76 454.7,156.83 444.92,156.32 444.92,153.71 437.58,153 437.58,149.78 430.05,149.78 429.47,153.3 405.8,148.87 381.35,145.04 358.08,139.1 350.55,134.66 334.8,124.29" fill="none" stroke="#2a2a1a" stroke-width="0.6" stroke-opacity="0.85"/>
<clipPath id="cpe"><polygon points="81.58,186.6 86.94,189.21 121.97,190.41 135.75,203.65 140.53,204.45 146.75,210.27 152.02,211.47 156.8,215.29 161.59,215.89 165.89,219.3 174.98,219.5 176.9,221.91 185.99,222.31 188.38,224.91 197.19,225.92 200.63,229.23 211.35,229.43 215.46,232.74 223.12,233.14 226.66,236.05 233.17,236.35 237,239.76 252.5,240.16 252.5,249.59 249.34,253.4 211.64,253.4 205.61,250.89 193.17,249.69 188.86,247.78 187.43,243.87 177.86,243.37 177.86,240.76 170.68,240.06 170.68,236.85 163.31,236.85 162.74,240.36 139.58,235.95 115.65,232.14 92.88,226.22 85.51,221.81 70.1,211.47"/></clipPath>
<g clip-path="url(#cpe)">
<polygon points="81.58,186.6 86.94,189.21 121.97,190.41 135.75,203.65 140.53,204.45 146.75,210.27 152.02,211.47 156.8,215.29 161.59,215.89 165.89,219.3 174.98,219.5 176.9,221.91 185.99,222.31 188.38,224.91 197.19,225.92 200.63,229.23 211.35,229.43 215.46,232.74 223.12,233.14 226.66,236.05 233.17,236.35 237,239.76 252.5,240.16 252.5,249.59 249.34,253.4 211.64,253.4 205.61,250.89 193.17,249.69 188.86,247.78 187.43,243.87 177.86,243.37 177.86,240.76 170.68,240.06 170.68,236.85 163.31,236.85 162.74,240.36 139.58,235.95 115.65,232.14 92.88,226.22 85.51,221.81 70.1,211.47" fill="#f8b000"/>
<g filter="url(#bl2)">
<polygon points="57.64,176.64 280.37,176.64 280.37,272.09 57.64,272.09" fill="#f8a408"/>
<polygon points="70.11,210.36 75.45,199.55 79.27,195.73 83.09,200.82 89.46,212.91 102.18,214.82 135.27,213.55 165.82,225 165.82,241.55 95.82,233.91" fill="#ffd000" stroke="#ffd000" stroke-width="0.76" stroke-linejoin="round"/>
<polygon points="79.27,216.35 95.82,218.64 114.91,218 135.27,217.36 178.55,233.91 153.09,249.18 95.82,233.91" fill="#ffe800" stroke="#ffe800" stroke-width="0.76" stroke-linejoin="round"/>
<polygon points="94.55,192.16 122.55,190.89 135.27,198.91 135.27,203.36 123.82,209.73 106,208.46 102.18,212.91 93.27,212.91 91.36,207.18 83.09,204 91.36,200.82 95.82,198.27" fill="#f0800c" stroke="#f0800c" stroke-width="1.02" stroke-linejoin="round"/>
<polygon points="128,195.64 136.91,203.91 147.09,210.91 163,217.91 177,221.09 187.82,224.53 199.27,224.91 199.27,233.18 166.18,224.91 147.09,219.18 128,207.73" fill="#f59208" stroke="#f59208" stroke-width="0.51" stroke-linejoin="round"/>
<polygon points="171.27,219.82 184,221.73 187.82,224.91 187.82,231.91 180.18,233.18 172.55,226.82" fill="#f0820c" stroke="#f0820c" stroke-width="0.76" stroke-linejoin="round"/>
<polygon points="190.09,219.64 256.27,223.45 256.27,255.27 204.09,255.27 195.18,243.82 190.09,231.09" fill="#ec6a0c"/>
<polygon points="181.18,233.64 190.09,237.46 204.09,248.91 204.09,255.27 181.18,248.91" fill="#ffd000" stroke="#ffd000" stroke-width="0.51" stroke-linejoin="round"/>
</g>
<g filter="url(#bl)">
<polygon points="91.36,202.09 97.09,199.29 104.73,201.84 109.82,202.73 116.18,199.55 121.91,200.56 121.53,207.18 118.73,210.36 115.55,207.82 106,207.18 103.46,212.53 93.53,212.53 91.75,207.18 84.36,204" fill="#ec6a0c" stroke="#ec6a0c" stroke-width="1.02" stroke-linejoin="round"/>
<polygon points="92.64,202.35 97.09,200.56 103.46,202.85 108.55,203.36 103.46,206.67 102.18,211.26 94.55,211.26 93.27,207.18" fill="#3fd21f" stroke="#3fd21f" stroke-width="0.64" stroke-linejoin="round"/>
<ellipse cx="96.84" cy="204.89" rx="1.65" ry="3.05" fill="#1f78e6"/>
<polygon points="110.46,203.36 116.18,201.07 120.64,201.58 120,206.67 118.09,208.46 114.91,205.4" fill="#3fd21f" stroke="#3fd21f" stroke-width="0.51" stroke-linejoin="round"/>
<ellipse cx="131.71" cy="202.35" rx="1.65" ry="1.65" fill="#3fd21f"/>
<polygon points="96.46,195.09 99,194.71 99.64,199.55 97.35,199.29" fill="#f59a08" stroke="#f59a08" stroke-width="0.25" stroke-linejoin="round"/>
<ellipse cx="131.56" cy="202" rx="1.78" ry="1.78" fill="#3fd21f"/>
<ellipse cx="142.64" cy="212.18" rx="1.53" ry="1.53" fill="#ec6a0c"/>
<ellipse cx="144.29" cy="217.91" rx="1.91" ry="1.91" fill="#ec6a0c"/>
<ellipse cx="150.91" cy="217.65" rx="1.4" ry="1.4" fill="#ec6a0c"/>
<ellipse cx="179.55" cy="225.55" rx="1.02" ry="1.02" fill="#a09020"/>
<polygon points="188.82,239.36 197.73,243.82 216.82,251.46 216.82,254.64 188.82,246.36" fill="#f59a08" stroke="#f59a08" stroke-width="0.51" stroke-linejoin="round"/>
<polygon points="185.64,225.75 197.09,224.98 200.27,228.55 209.18,229.18 210.46,236.18 215.55,239.36 223.18,241.53 252.46,241.53 252.46,243.31 223.18,243.31 216.82,242.8 207.91,239.75 197.73,238.98 190.09,233.89" fill="#3fd21f" stroke="#3fd21f" stroke-width="0.64" stroke-linejoin="round"/>
<ellipse cx="196.2" cy="231.35" rx="1.4" ry="1.4" fill="#1f78e6"/>
<ellipse cx="205.11" cy="232.11" rx="2.04" ry="1.53" fill="#3f7fd0"/>
<ellipse cx="201.29" cy="238.73" rx="1.15" ry="1.15" fill="#1f78e6"/>
<polygon points="208.67,228.93 211.73,228.29 214.91,232.36 218.35,233 217.84,237.71 213.64,237.2 209.44,235.16" fill="#1f78e6" stroke="#1f78e6" stroke-width="0.51" stroke-linejoin="round"/>
<polygon points="209.95,229.82 211.98,229.31 214.91,233 218.35,233.64 217.84,237.46 214.02,236.69 210.46,234.65" fill="#4fb6f2" stroke="#4fb6f2" stroke-width="0.38" stroke-linejoin="round"/>
<polygon points="212.36,233 216.18,233.89 218.35,238.09 223.18,240.26 218.09,240.26 213.64,236.82" fill="#a8dcf8" stroke="#a8dcf8" stroke-width="0.38" stroke-linejoin="round"/>
<polygon points="215.55,233 223.18,233 227,236.44 229.29,240.76 220.64,240.26 217.07,237.46" fill="#f0c2ea" stroke="#f0c2ea" stroke-width="0.51" stroke-linejoin="round"/>
<polygon points="227,236.18 234,236.18 237.18,239.36 252.46,239.49 252.46,241.02 235.91,241.02 229.29,241.02" fill="#a01ed2" stroke="#a01ed2" stroke-width="0.38" stroke-linejoin="round"/>
<polygon points="228.02,236.95 234,236.69 236.16,239.24 235.4,240.26 229.55,240.26" fill="#4a0078" stroke="#4a0078" stroke-width="0.38" stroke-linejoin="round"/>
<polygon points="237.44,241.15 252.46,241.15 252.46,242.04 237.44,242.04" fill="#ffffff" stroke="#ffffff" stroke-width="0.13" stroke-linejoin="round"/>
<polygon points="221.91,245.73 235.91,245.35 236.55,250.18 223.18,250.44" fill="#a89020" stroke="#a89020" stroke-width="1.02" stroke-linejoin="round"/>
<polygon points="246.09,243.18 252.46,243.18 252.46,250.18 247.36,250.18" fill="#a89020" stroke="#a89020" stroke-width="0.76" stroke-linejoin="round"/>
<ellipse cx="209.82" cy="246.11" rx="4.07" ry="2.42" fill="#3fd21f"/>
<polygon points="217.07,249.16 223.18,249.16 224.46,254 217.07,254" fill="#3fd21f" stroke="#3fd21f" stroke-width="0.51" stroke-linejoin="round"/>
<ellipse cx="219.11" cy="249.93" rx="1.27" ry="1.27" fill="#1f78e6"/>
<ellipse cx="231.46" cy="252.47" rx="1.27" ry="1.27" fill="#1f78e6"/>
<ellipse cx="241" cy="250.18" rx="1.53" ry="1.02" fill="#1f78e6"/>
</g>
</g>
<polygon points="81.58,186.6 86.94,189.21 121.97,190.41 135.75,203.65 140.53,204.45 146.75,210.27 152.02,211.47 156.8,215.29 161.59,215.89 165.89,219.3 174.98,219.5 176.9,221.91 185.99,222.31 188.38,224.91 197.19,225.92 200.63,229.23 211.35,229.43 215.46,232.74 223.12,233.14 226.66,236.05 233.17,236.35 237,239.76 252.5,240.16 252.5,249.59 249.34,253.4 211.64,253.4 205.61,250.89 193.17,249.69 188.86,247.78 187.43,243.87 177.86,243.37 177.86,240.76 170.68,240.06 170.68,236.85 163.31,236.85 162.74,240.36 139.58,235.95 115.65,232.14 92.88,226.22 85.51,221.81 70.1,211.47" fill="none" stroke="#2a2a1a" stroke-width="0.6" stroke-opacity="0.85"/>
<clipPath id="cpf"><polygon points="342.3,189.8 347.67,192.32 382.75,193.49 396.56,206.29 401.35,207.07 407.58,212.69 412.85,213.86 417.64,217.54 422.44,218.12 426.75,221.42 435.86,221.62 437.77,223.94 446.88,224.33 449.28,226.85 458.1,227.82 461.55,231.02 472.28,231.22 476.4,234.42 484.07,234.81 487.62,237.62 494.14,237.91 497.97,241.21 513.5,241.6 513.5,250.71 510.34,254.4 472.57,254.4 466.53,251.98 454.07,250.81 449.76,248.97 448.32,245.19 438.73,244.7 438.73,242.18 431.54,241.5 431.54,238.4 424.16,238.4 423.59,241.79 400.39,237.52 376.43,233.84 353.61,228.11 346.23,223.85 330.8,213.86"/></clipPath>
<g clip-path="url(#cpf)">
<polygon points="342.3,189.8 347.67,192.32 382.75,193.49 396.56,206.29 401.35,207.07 407.58,212.69 412.85,213.86 417.64,217.54 422.44,218.12 426.75,221.42 435.86,221.62 437.77,223.94 446.88,224.33 449.28,226.85 458.1,227.82 461.55,231.02 472.28,231.22 476.4,234.42 484.07,234.81 487.62,237.62 494.14,237.91 497.97,241.21 513.5,241.6 513.5,250.71 510.34,254.4 472.57,254.4 466.53,251.98 454.07,250.81 449.76,248.97 448.32,245.19 438.73,244.7 438.73,242.18 431.54,241.5 431.54,238.4 424.16,238.4 423.59,241.79 400.39,237.52 376.43,233.84 353.61,228.11 346.23,223.85 330.8,213.86" fill="#fff000"/>
<g filter="url(#bl)">
<polygon points="319.64,178.64 542.37,178.64 542.37,274.09 319.64,274.09" fill="#e24c10"/>
<polygon points="348.91,191.36 382.64,192.64 404.91,210.46 397.27,207.27 376.91,200.91 364.18,196.71" fill="#e6b4ea"/>
<polyline points="342.29,190.73 343.82,192.64 351.46,195.82 364.18,199.76 376.91,204.47 389.64,208.55 401.09,211.73" fill="none" stroke="#3fd21f" stroke-width="2.55" stroke-linejoin="round" stroke-linecap="round"/>
<polyline points="342.29,190.09 338.09,199.64" fill="none" stroke="#3fd21f" stroke-width="1.78" stroke-linejoin="round" stroke-linecap="round"/>
<polyline points="350.82,193.15 364.18,197.22 376.91,201.8 389.64,205.62 401.09,209.82" fill="none" stroke="#1f78e6" stroke-width="1.15" stroke-linejoin="round" stroke-linecap="round"/>
<polyline points="353.36,194.55 364.18,198.11 376.91,202.69 389.64,206.51 400.46,210.46" fill="none" stroke="#4fb6f2" stroke-width="0.89" stroke-linejoin="round" stroke-linecap="round"/>
<polygon points="334.91,204.35 338.73,199.89 341.91,199.25 342.55,201.8 346.36,199.25 355.27,202.44 364.18,204.35 374.36,207.53 371.82,208.55 361.64,207.4 356.55,209.69 345.09,208.42 334.27,207.91" fill="#fff200" stroke="#fff200" stroke-width="0.64" stroke-linejoin="round"/>
<polygon points="331.09,213.26 334.91,209.44 342.55,210.07 351.46,210.71 345.09,212.49 338.73,214.91 333.64,214.53" fill="#3fd21f" stroke="#3fd21f" stroke-width="0.64" stroke-linejoin="round"/>
<ellipse cx="340.64" cy="211.47" rx="1.27" ry="1.27" fill="#4fb6f2"/>
<polygon points="343.82,217.07 351.46,215.8 357.82,213.89 370.55,213.89 376.91,218.35 387.09,217.71 397.27,220.26 415.09,227 415.09,238.46 370.55,227.26 357.82,224.71 347.64,222.16" fill="#fff200" stroke="#fff200" stroke-width="0.64" stroke-linejoin="round"/>
<polygon points="348.91,216.82 350.82,218.35 349.55,220" fill="#e24c10" stroke="#e24c10" stroke-width="0.51" stroke-linejoin="round"/>
<polygon points="375.64,217.46 376.91,220.64 375,220" fill="#e24c10" stroke="#e24c10" stroke-width="0.51" stroke-linejoin="round"/>
<polyline points="341.27,220 348.91,224.71 370.55,231.07" fill="none" stroke="#3fd21f" stroke-width="1.27" stroke-linejoin="round" stroke-linecap="round"/>
<polyline points="342.55,221.91 348.91,225.73 370.55,232.35" fill="none" stroke="#4fb6f2" stroke-width="0.76" stroke-linejoin="round" stroke-linecap="round"/>
<ellipse cx="357.18" cy="204.35" rx="1.78" ry="1.78" fill="#3fd21f"/>
<ellipse cx="357.18" cy="204.35" rx="0.89" ry="0.89" fill="#4fb6f2"/>
<ellipse cx="355.02" cy="209.82" rx="1.91" ry="1.91" fill="#3fd21f"/>
<ellipse cx="355.02" cy="209.82" rx="1.27" ry="1.27" fill="#3fd21f"/>
<ellipse cx="355.02" cy="209.82" rx="0.64" ry="0.64" fill="#4fb6f2"/>
<ellipse cx="361.89" cy="219.62" rx="2.04" ry="2.04" fill="#3fd21f"/>
<ellipse cx="361.89" cy="219.62" rx="1.02" ry="1.02" fill="#4fb6f2"/>
<ellipse cx="377.55" cy="209.44" rx="4.84" ry="3.18" fill="#3fd21f" transform="rotate(-25 377.55 209.44)"/>
<polyline points="375.38,211.09 376.91,209.18 380.09,207.91" fill="none" stroke="#a8dcf8" stroke-width="2.04" stroke-linejoin="round" stroke-linecap="round"/>
<ellipse cx="384.8" cy="211.73" rx="1.91" ry="1.91" fill="#3fd21f"/>
<ellipse cx="384.8" cy="211.73" rx="0.95" ry="0.95" fill="#4fb6f2"/>
<ellipse cx="390.91" cy="219.36" rx="1.02" ry="1.02" fill="#3fd21f"/>
<ellipse cx="373.09" cy="212.36" rx="1.02" ry="1.02" fill="#3fd21f"/>
<ellipse cx="382" cy="208.55" rx="1.02" ry="1.02" fill="#4fb6f2"/>
<polygon points="385.45,220.46 395.64,219.18 407.09,222.36 419.82,228.09 430,231.91 441.46,234.46 449.09,237 459.27,241.07 432.55,242.35 431.91,237.64 423.64,237.64 413.46,234.46 400.73,229.36 385.45,226.82" fill="#fff200" stroke="#fff200" stroke-width="0.64" stroke-linejoin="round"/>
<polygon points="404.55,213.07 410.27,214.09 413.46,217.27 409.64,217.91 405.82,216" fill="#fff200" stroke="#fff200" stroke-width="0.51" stroke-linejoin="round"/>
<polyline points="385.45,228.35 400.73,231.91 413.46,236.36 424.91,239.8" fill="none" stroke="#e24c10" stroke-width="1.78" stroke-linejoin="round" stroke-linecap="round"/>
<polyline points="385.45,230.64 400.73,234.2 413.46,238.91 421.09,241.46" fill="none" stroke="#3fd21f" stroke-width="1.78" stroke-linejoin="round" stroke-linecap="round"/>
<polyline points="385.45,232.55 400.73,236.36 413.46,241.07" fill="none" stroke="#4fb6f2" stroke-width="1.15" stroke-linejoin="round" stroke-linecap="round"/>
<polyline points="385.45,233.95 400.73,238.02 408.36,241.07" fill="none" stroke="#1f78e6" stroke-width="0.76" stroke-linejoin="round" stroke-linecap="round"/>
<polygon points="388,206.2 395.64,207.22 400.73,207.73 407.09,212.82 415.36,216.64 423.64,220.71 433.82,220.96 437,224.02 438.91,226.18 449.09,228.35 449.09,233.18 438.91,232.16 430,228.73 419.82,227.46 413.46,223.64 407.09,219.82 403.27,214.09 395.64,210.78 388,209.76" fill="#3fd21f" stroke="#3fd21f" stroke-width="0.51" stroke-linejoin="round"/>
<ellipse cx="403.27" cy="215.36" rx="1.15" ry="1.15" fill="#4fb6f2"/>
<ellipse cx="410.91" cy="219.44" rx="1.4" ry="2.29" fill="#a8dcf8" transform="rotate(-20 410.91 219.44)"/>
<ellipse cx="418.55" cy="225.55" rx="1.02" ry="1.02" fill="#4fb6f2"/>
<ellipse cx="421.35" cy="222.36" rx="0.76" ry="0.76" fill="#1f78e6"/>
<ellipse cx="424.91" cy="226.18" rx="1.02" ry="1.02" fill="#1f78e6"/>
<ellipse cx="390.55" cy="219.18" rx="1.02" ry="1.02" fill="#3fd21f"/>
<ellipse cx="413.46" cy="222.36" rx="1.02" ry="1.02" fill="#4fb6f2"/>
<polygon points="428.47,223.64 433.82,223.26 438.91,224.91 449.09,226.82 459.27,228.35 459.27,233.18 449.09,231.91 438.91,229.62 431.27,227.84" fill="#1f78e6" stroke="#1f78e6" stroke-width="0.51" stroke-linejoin="round"/>
<polygon points="431.91,224.53 438.91,225.55 449.09,227.46 459.27,229.11 459.27,232.16 449.09,230.89 438.91,228.86 433.18,226.82" fill="#a8dcf8" stroke="#a8dcf8" stroke-width="0.38" stroke-linejoin="round"/>
<polygon points="438.91,225.29 445.27,224.53 449.09,227.07 459.27,227.46 459.27,231.27 449.09,229.62 441.46,227.84" fill="#e6b4ea" stroke="#e6b4ea" stroke-width="0.38" stroke-linejoin="round"/>
<polygon points="438.91,233.18 449.09,233.82 459.27,236.36 459.27,239.55 449.09,238.27 441.46,235.47" fill="#e24c10" stroke="#e24c10" stroke-width="0.51" stroke-linejoin="round"/>
<polygon points="446.73,238.46 455.64,244.82 464.55,251.18 460.73,253.73 446.73,249.91" fill="#fff200"/>
<polygon points="446.73,225.73 458.18,227.25 461.36,230.82 470.91,230.82 474.73,234 482.36,234 485.55,237.18 493.18,237.44 497,240.75 513.55,241.64 513.55,255 475.36,255 467.09,249.91 463.27,243.55 455.64,237.18 446.73,234" fill="#86c8f4"/>
<polygon points="446.73,225.73 458.18,227.25 461.36,230.82 470.91,230.82 474.73,234 482.36,234 485.55,237.18 493.18,237.44 497,240.75 513.55,241.64 513.55,243.55 498.91,243.55 486.18,241.26 473.46,238.46 460.73,235.91 446.73,233.36" fill="#e8d8f6" stroke="#e8d8f6" stroke-width="0.38" stroke-linejoin="round"/>
<polygon points="475.36,234 482.36,234 485.55,237.18 493.18,237.44 497,240.75 498.91,241.26 490,239.09 483.64,237.82 478.55,235.91" fill="#a01ed2" stroke="#a01ed2" stroke-width="0.38" stroke-linejoin="round"/>
<polygon points="479.82,234.13 482.36,234.13 485.55,237.18 493.18,237.56 495.73,239.73 490,238.46 484.27,237.18" fill="#4a0078" stroke="#4a0078" stroke-width="0.25" stroke-linejoin="round" opacity="0.8"/>
<polygon points="504,241.26 513.55,241.76 513.55,243.55 506.55,243.29" fill="#a01ed2" stroke="#a01ed2" stroke-width="0.38" stroke-linejoin="round"/>
<polygon points="467.09,237.82 486.18,241.26 491.27,245.46 479.82,248 469.64,244.82" fill="#c4e6fa" stroke="#c4e6fa" stroke-width="1.02" stroke-linejoin="round"/>
<polygon points="446.73,233.62 455.64,235.91 462,239.73 465.82,244.18 479.82,249.91 479.82,255.64 460.73,251.18 446.73,244.82" fill="#3fd21f" stroke="#3fd21f" stroke-width="0.51" stroke-linejoin="round"/>
<polygon points="446.73,237.82 453.09,238.46 456.91,242.27 451.82,244.18 446.73,243.55" fill="#e24c10" stroke="#e24c10" stroke-width="0.51" stroke-linejoin="round"/>
<polygon points="463.91,244.82 467.09,247.62 475.36,251.82 474.98,254.49 464.55,251.44 455.64,247.36 449.91,244.82 458.18,245.84" fill="#e24c10" stroke="#e24c10" stroke-width="0.25" stroke-linejoin="round"/>
<polygon points="449.91,245.46 456.91,247.11 464.55,250.16 464.29,251.44 450.29,247.11" fill="#fff200" stroke="#fff200" stroke-width="0.25" stroke-linejoin="round"/>
<polyline points="455.64,240.36 460.73,241.64 464.55,244.18 465.82,248 473.46,249.91 486.18,251.82 490,249.27 496.36,246.35" fill="none" stroke="#1f78e6" stroke-width="0.89" stroke-linejoin="round" stroke-linecap="round"/>
<polyline points="456.91,242.02 463.27,243.55" fill="none" stroke="#4fb6f2" stroke-width="1.27" stroke-linejoin="round" stroke-linecap="round"/>
<polygon points="490,249.91 495.09,245.46 501.46,243.55 513.55,244.18 513.55,251.18 510.36,254.75 490,254.75" fill="#3fd21f" stroke="#3fd21f" stroke-width="0.51" stroke-linejoin="round"/>
<polygon points="507.82,244.18 513.55,244.18 513.55,249.27 509.09,248.64" fill="#4fb6f2" stroke="#4fb6f2" stroke-width="0.38" stroke-linejoin="round"/>
<ellipse cx="492.55" cy="250.55" rx="2.55" ry="3.05" fill="#4fb6f2"/>
<ellipse cx="492.55" cy="250.55" rx="1.7" ry="2.04" fill="#f0c2ea"/>
<ellipse cx="492.55" cy="250.55" rx="0.85" ry="1.02" fill="#f0c2ea"/>
<ellipse cx="502.98" cy="250.93" rx="2.16" ry="3.05" fill="#4fb6f2"/>
<ellipse cx="502.98" cy="250.93" rx="1.44" ry="2.04" fill="#f0c2ea"/>
<ellipse cx="502.98" cy="250.93" rx="0.72" ry="1.02" fill="#f0c2ea"/>
<polygon points="477.91,253.73 490,253.98 490,255.26 477.91,255.26" fill="#e24c10" stroke="#e24c10" stroke-width="0.25" stroke-linejoin="round"/>
</g>
</g>
<polygon points="342.3,189.8 347.67,192.32 382.75,193.49 396.56,206.29 401.35,207.07 407.58,212.69 412.85,213.86 417.64,217.54 422.44,218.12 426.75,221.42 435.86,221.62 437.77,223.94 446.88,224.33 449.28,226.85 458.1,227.82 461.55,231.02 472.28,231.22 476.4,234.42 484.07,234.81 487.62,237.62 494.14,237.91 497.97,241.21 513.5,241.6 513.5,250.71 510.34,254.4 472.57,254.4 466.53,251.98 454.07,250.81 449.76,248.97 448.32,245.19 438.73,244.7 438.73,242.18 431.54,241.5 431.54,238.4 424.16,238.4 423.59,241.79 400.39,237.52 376.43,233.84 353.61,228.11 346.23,223.85 330.8,213.86" fill="none" stroke="#2a2a1a" stroke-width="0.6" stroke-opacity="0.85"/>
<clipPath id="cpg"><polygon points="81.23,275.8 86.61,278.55 121.77,279.82 135.6,293.77 140.4,294.62 146.65,300.75 151.93,302.02 156.73,306.03 161.54,306.67 165.86,310.26 174.99,310.47 176.91,313.01 186.03,313.43 188.44,316.18 197.27,317.24 200.73,320.72 211.49,320.94 215.62,324.42 223.31,324.85 226.86,327.91 233.39,328.23 237.24,331.82 252.8,332.25 252.8,342.18 249.63,346.2 211.78,346.2 205.73,343.56 193.24,342.29 188.92,340.28 187.48,336.16 177.87,335.63 177.87,332.88 170.66,332.14 170.66,328.76 163.27,328.76 162.69,332.46 139.44,327.81 115.43,323.79 92.56,317.55 85.17,312.9 69.7,302.02"/></clipPath>
<g clip-path="url(#cpg)">
<polygon points="81.23,275.8 86.61,278.55 121.77,279.82 135.6,293.77 140.4,294.62 146.65,300.75 151.93,302.02 156.73,306.03 161.54,306.67 165.86,310.26 174.99,310.47 176.91,313.01 186.03,313.43 188.44,316.18 197.27,317.24 200.73,320.72 211.49,320.94 215.62,324.42 223.31,324.85 226.86,327.91 233.39,328.23 237.24,331.82 252.8,332.25 252.8,342.18 249.63,346.2 211.78,346.2 205.73,343.56 193.24,342.29 188.92,340.28 187.48,336.16 177.87,335.63 177.87,332.88 170.66,332.14 170.66,328.76 163.27,328.76 162.69,332.46 139.44,327.81 115.43,323.79 92.56,317.55 85.17,312.9 69.7,302.02" fill="#ffd800"/>
<g filter="url(#bl2)">
<polygon points="57.64,265.64 280.37,265.64 280.37,361.09 57.64,361.09" fill="#ffee00"/>
<polygon points="70.36,300.64 75.45,291.09 83.09,291.09 85.64,297.46 81.82,301.91 75.45,302.55" fill="#f8a608" stroke="#f8a608" stroke-width="0.64" stroke-linejoin="round"/>
<polygon points="81.18,275.82 89.46,279.64 91.36,287.27 85.64,288.55 79.27,286" fill="#fbb808" stroke="#fbb808" stroke-width="0.51" stroke-linejoin="round"/>
<polygon points="112.36,303.82 135.27,301.27 135.27,310.18 121.27,310.18" fill="#fbc008" stroke="#fbc008" stroke-width="0.51" stroke-linejoin="round"/>
<polygon points="133.64,305.91 140,305.27 141.27,312.27 136.18,313.55" fill="#fbb008" stroke="#fbb008" stroke-width="0.76" stroke-linejoin="round"/>
<polygon points="126,318 138.73,317.36 151.46,321.18 168,326.91 151.46,326.27 126,321.18" fill="#f89408" stroke="#f89408" stroke-width="0.51" stroke-linejoin="round"/>
<polygon points="146.36,300.82 164.18,309.09 178.18,312.91 176.91,319.91 164.18,316.09 151.46,311" fill="#fbb008" stroke="#fbb008" stroke-width="0.76" stroke-linejoin="round"/>
</g>
<g filter="url(#bl)">
<polygon points="90.98,279.38 122.55,279.64 135.27,289.18 135.27,292.11 125.09,287.27 102.18,281.93 92.26,281.42" fill="#3fd21f" stroke="#3fd21f" stroke-width="0.38" stroke-linejoin="round"/>
<polygon points="87.55,289.18 92,287.27 98.36,287.91 106,291.09 109.82,294.91 111.35,299.36 107.27,302.04 102.18,302.8 101.16,306.62 97.73,307.26 96.46,299.36 86.91,295.67 85.64,292.36" fill="#ec6a0c" stroke="#ec6a0c" stroke-width="1.78" stroke-linejoin="round"/>
<polygon points="87.55,289.18 92,287.27 98.36,287.91 106,291.09 109.82,294.91 111.35,299.36 107.27,302.04 102.18,302.8 101.16,306.62 97.73,307.26 96.46,299.36 86.91,295.67 85.64,292.36" fill="#3fd21f" stroke="#3fd21f" stroke-width="0.51" stroke-linejoin="round"/>
<polygon points="106.26,293.89 110.07,294.65 109.82,297.46 106.64,297.2" fill="#f8a008" stroke="#f8a008" stroke-width="0.38" stroke-linejoin="round"/>
<polygon points="92.51,280.91 102.18,282.82 114.91,286.13 126.11,290.07 125.6,295.16 121.91,297.84 114.66,298.09 105.49,295.16 97.86,290.58 93.27,285.24" fill="#a01ed2" stroke="#a01ed2" stroke-width="0.38" stroke-linejoin="round"/>
<polygon points="93.27,281.93 102.18,283.84 114.91,287.15 125.35,290.71 124.84,294.65 121.53,297.07 114.91,297.33 106,294.53 98.36,289.95 94.04,284.98" fill="#3c0068" stroke="#3c0068" stroke-width="0.25" stroke-linejoin="round"/>
<polyline points="100.91,281.67 114.91,284.73 125.09,287.78 135.27,292.11" fill="none" stroke="#4fb6f2" stroke-width="1.65" stroke-linejoin="round" stroke-linecap="round"/>
<polyline points="104.73,282.95 114.91,285.11 125.09,288.29 132.73,291.35" fill="none" stroke="#a8dcf8" stroke-width="0.64" stroke-linejoin="round" stroke-linecap="round"/>
<polygon points="114.27,297.46 121.91,297.46 121.27,303.18 117.46,303.82 114.27,301.91" fill="#3fd21f" stroke="#3fd21f" stroke-width="0.51" stroke-linejoin="round"/>
<polygon points="115.55,298.09 120.64,298.09 118.98,302.29 115.93,301.53" fill="#1f78e6" stroke="#1f78e6" stroke-width="0.38" stroke-linejoin="round"/>
<ellipse cx="111.09" cy="298.47" rx="1.15" ry="1.15" fill="#1f78e6"/>
<ellipse cx="93.53" cy="290.84" rx="3.82" ry="2.67" fill="#4fb6f2"/>
<ellipse cx="93.53" cy="290.84" rx="2.86" ry="2" fill="#f0c2ea"/>
<ellipse cx="93.53" cy="290.84" rx="1.91" ry="1.34" fill="#f0c2ea"/>
<ellipse cx="93.53" cy="290.84" rx="0.95" ry="0.67" fill="#a01ed2"/>
<ellipse cx="102.18" cy="293.13" rx="3.44" ry="3.31" fill="#4fb6f2"/>
<ellipse cx="102.18" cy="293.13" rx="2.58" ry="2.48" fill="#a8dcf8"/>
<ellipse cx="102.18" cy="293.13" rx="1.72" ry="1.65" fill="#f0c2ea"/>
<ellipse cx="102.18" cy="293.13" rx="0.86" ry="0.83" fill="#f0c2ea"/>
<polygon points="130.18,291.09 135.27,291.09 135.27,297.46 131.46,296.82" fill="#ec6a0c" stroke="#ec6a0c" stroke-width="0.51" stroke-linejoin="round"/>
<ellipse cx="99.64" cy="315.27" rx="3.31" ry="2.8" fill="#ec6a0c"/>
<ellipse cx="99.64" cy="315.53" rx="2.29" ry="2.29" fill="#3fd21f"/>
<ellipse cx="99.64" cy="315.53" rx="1.15" ry="1.15" fill="#4fb6f2"/>
<ellipse cx="79.91" cy="295.55" rx="1.02" ry="1.02" fill="#f08008"/>
<ellipse cx="78" cy="291.09" rx="0.76" ry="0.76" fill="#f08008"/>
<polygon points="124.73,283 131.09,288.09 134.91,293.18 131.09,294.45 124.73,291.91" fill="#3fd21f" stroke="#3fd21f" stroke-width="0.51" stroke-linejoin="round"/>
<polygon points="124.73,284.91 129.18,288.09 129.82,290.89 124.73,290" fill="#4fb6f2" stroke="#4fb6f2" stroke-width="0.38" stroke-linejoin="round"/>
<ellipse cx="142.93" cy="303.11" rx="2.04" ry="2.04" fill="#3fd21f"/>
<ellipse cx="142.93" cy="303.11" rx="1.36" ry="1.36" fill="#4fb6f2"/>
<ellipse cx="142.93" cy="303.11" rx="0.68" ry="0.68" fill="#4fb6f2"/>
<ellipse cx="148.27" cy="308.46" rx="2.8" ry="2.04" fill="#3fd21f"/>
<ellipse cx="148.27" cy="308.46" rx="1.87" ry="1.36" fill="#3fd21f"/>
<ellipse cx="148.27" cy="308.46" rx="0.93" ry="0.68" fill="#4fb6f2"/>
<ellipse cx="168.64" cy="313.29" rx="5.35" ry="3.56" fill="#ec6a0c"/>
<ellipse cx="166.73" cy="312.91" rx="2.55" ry="2.55" fill="#3fd21f"/>
<ellipse cx="171.56" cy="313.29" rx="1.27" ry="2.04" fill="#3fd21f"/>
<ellipse cx="136.82" cy="309.09" rx="2.55" ry="3.31" fill="#ec6a0c"/>
<ellipse cx="151.46" cy="313.29" rx="1.53" ry="1.53" fill="#ec6a0c"/>
<ellipse cx="161.64" cy="311.64" rx="1.53" ry="1.53" fill="#ec6a0c"/>
<polygon points="133.64,314.82 137.45,312.91 140.64,314.82 145.09,317.62 141.27,318 134.91,317.62" fill="#3fd21f" stroke="#3fd21f" stroke-width="0.51" stroke-linejoin="round"/>
<ellipse cx="136.82" cy="315.84" rx="1.78" ry="1.15" fill="#4fb6f2"/>
<polyline points="128.55,317.62 145.09,319.66 159.09,324.36" fill="none" stroke="#ec6a0c" stroke-width="2.04" stroke-linejoin="round" stroke-linecap="round"/>
<polyline points="124.73,321.82 133.64,323.98 142.55,326.91" fill="none" stroke="#3fd21f" stroke-width="1.53" stroke-linejoin="round" stroke-linecap="round"/>
<polyline points="124.73,323.22 133.64,325.51" fill="none" stroke="#4fb6f2" stroke-width="0.64" stroke-linejoin="round" stroke-linecap="round"/>
<polygon points="173.35,321.18 176.91,317.36 180.73,314.18 185.82,313.55 187.09,321.18 182,326.91 173.35,326.91" fill="#3fd21f" stroke="#3fd21f" stroke-width="0.51" stroke-linejoin="round"/>
<polygon points="175,321.18 178.18,318.64 180.98,319.27 180.09,323.47 175.64,323.98" fill="#1f78e6" stroke="#1f78e6" stroke-width="0.38" stroke-linejoin="round"/>
<polygon points="180.47,315.46 182.64,314.82 182,319.27" fill="#ffee00" stroke="#ffee00" stroke-width="0.25" stroke-linejoin="round"/>
</g>
<g filter="url(#bl3)">
<polygon points="180.91,309.09 253.46,326.91 253.46,347.27 203.82,347.27 179.64,335.82 179.64,321.82" fill="#f08a0c" stroke="#f08a0c" stroke-width="0.38" stroke-linejoin="round"/>
<polygon points="172,309.73 178.36,310.11 179,317.36 172.64,318" fill="#f08a0c" stroke="#f08a0c" stroke-width="0.51" stroke-linejoin="round"/>
<polygon points="172,325 179.64,324.36 187.27,328.18 188.55,331.36 179.64,332 172,329.46" fill="#ffee00" stroke="#ffee00" stroke-width="0.51" stroke-linejoin="round"/>
<polygon points="173.02,316.73 177.09,315.2 179.89,318 179.64,324.36 174.55,325" fill="#3fd21f" stroke="#3fd21f" stroke-width="0.51" stroke-linejoin="round"/>
<polygon points="174.55,320.29 178.36,319.53 178.62,324.11 175.18,324.36" fill="#4fb6f2" stroke="#4fb6f2" stroke-width="0.38" stroke-linejoin="round"/>
<polygon points="183.2,313.93 187.02,313.16 187.91,323.09 184.09,323.09" fill="#3fd21f" stroke="#3fd21f" stroke-width="0.51" stroke-linejoin="round"/>
<polygon points="186.25,315.2 189.82,316.09 197.46,316.73 198.09,326.91 192.36,325 187.27,325.64" fill="#4fb6f2" stroke="#4fb6f2" stroke-width="0.51" stroke-linejoin="round"/>
<polygon points="191.09,317.75 197.2,318.25 197.46,323.09 192.36,322.45" fill="#1f78e6" stroke="#1f78e6" stroke-width="0.38" stroke-linejoin="round"/>
<polygon points="187.02,322.84 191.73,322.45 192.36,326.65 187.27,326.91" fill="#f0c2ea" stroke="#f0c2ea" stroke-width="0.38" stroke-linejoin="round"/>
<polygon points="187.02,323.35 192.62,322.84 196.44,327.55 195.67,331.75 191.09,331.49 187.53,327.93" fill="#a01ed2" stroke="#a01ed2" stroke-width="0.64" stroke-linejoin="round"/>
<ellipse cx="191.73" cy="327.55" rx="2.55" ry="1.65" fill="#3c0068" transform="rotate(40 191.73 327.55)"/>
<polygon points="179,333.02 188.55,333.53 188.55,335.31 179.38,335.06" fill="#a8dcf8" stroke="#a8dcf8" stroke-width="0.25" stroke-linejoin="round"/>
<polygon points="196.82,319.02 199.75,319.91 199.75,333.91 196.95,333.27" fill="#3fd21f" stroke="#3fd21f" stroke-width="0.38" stroke-linejoin="round"/>
<polygon points="199.75,320.55 206.11,321.18 207,333.27 200,333.91" fill="#e8560e" stroke="#e8560e" stroke-width="0.51" stroke-linejoin="round"/>
<polygon points="201.02,321.82 204.46,321.82 204.84,326.91 201.53,326.91" fill="#b08a1e" stroke="#b08a1e" stroke-width="0.38" stroke-linejoin="round"/>
<ellipse cx="201.53" cy="330.73" rx="1.65" ry="1.65" fill="#f0c2ea"/>
<ellipse cx="201.53" cy="330.73" rx="1.1" ry="1.1" fill="#a01ed2"/>
<ellipse cx="201.53" cy="330.73" rx="0.55" ry="0.55" fill="#a01ed2"/>
<polygon points="206.11,319.91 212.73,320.29 215.91,323.73 224.18,324.36 225.46,333.91 214,334.55 206.62,332.64" fill="#3fd21f" stroke="#3fd21f" stroke-width="0.38" stroke-linejoin="round"/>
<polygon points="207.38,320.8 212.73,321.05 215.91,324.36 222.91,325 223.55,332.64 214.64,333.27 207.89,331.36" fill="#4fb6f2" stroke="#4fb6f2" stroke-width="0.38" stroke-linejoin="round"/>
<polygon points="210.18,322.07 215.91,325 216.8,329.46 211.71,330.09 210.18,326.27" fill="#f0c2ea" stroke="#f0c2ea" stroke-width="0.51" stroke-linejoin="round"/>
<ellipse cx="221" cy="329.46" rx="1.78" ry="1.78" fill="#1f78e6"/>
<polygon points="215.02,323.09 224.18,324.11 227.36,327.55 234.36,327.93 238.18,330.98 253.46,331.36 253.46,333.91 238.18,333.53 228,331.36 222.91,328.82 216.55,326.27" fill="#a01ed2" stroke="#a01ed2" stroke-width="0.38" stroke-linejoin="round"/>
<polygon points="222.27,324.11 224.18,324.36 227.36,327.67 234.36,328.18 237.55,330.73 231.82,330.09 225.46,327.55" fill="#3c0068" stroke="#3c0068" stroke-width="0.25" stroke-linejoin="round" opacity="0.85"/>
<polygon points="209.55,333.53 216.55,332.64 229.27,335.82 231.82,340.91 222.91,341.55 214,339" fill="#ec6a0c" stroke="#ec6a0c" stroke-width="0.64" stroke-linejoin="round"/>
<polygon points="215.27,334.8 222.91,335.18 226.98,338.36 220.36,339" fill="#ffee00" stroke="#ffee00" stroke-width="0.51" stroke-linejoin="round"/>
<polygon points="222.91,329.46 228,331.36 238.18,333.91 243.27,334.55 243.27,342.18 233.09,342.18 229.27,335.82" fill="#3fd21f" stroke="#3fd21f" stroke-width="0.51" stroke-linejoin="round"/>
<polygon points="225.46,331.36 231.82,333.53 234.36,337.35 230.55,337.35" fill="#4fb6f2" stroke="#4fb6f2" stroke-width="0.38" stroke-linejoin="round"/>
<polygon points="189.56,335.82 197.46,335.82 198.73,339 191.09,338.36" fill="#f0c2ea" stroke="#f0c2ea" stroke-width="0.51" stroke-linejoin="round"/>
<polygon points="193.64,336.58 208.27,336.84 208.27,342.18 201.27,341.93 195.55,339.64" fill="#a01ed2" stroke="#a01ed2" stroke-width="0.51" stroke-linejoin="round"/>
<polygon points="202.55,338.62 207.13,338.36 207.38,341.55 203.18,341.55" fill="#3c0068" stroke="#3c0068" stroke-width="0.38" stroke-linejoin="round"/>
<polygon points="207.89,337.35 214,338.11 219.09,340.91 219.35,345.36 209.55,345.36" fill="#4fb6f2" stroke="#4fb6f2" stroke-width="0.51" stroke-linejoin="round"/>
<ellipse cx="215.91" cy="341.93" rx="1.78" ry="1.78" fill="#4fb6f2"/>
<ellipse cx="215.91" cy="341.93" rx="1.19" ry="1.19" fill="#f0c2ea"/>
<ellipse cx="215.91" cy="341.93" rx="0.59" ry="0.59" fill="#f0c2ea"/>
<polygon points="210.18,337.35 213.36,337.73 212.73,340.91 210.18,340.27" fill="#3fd21f" stroke="#3fd21f" stroke-width="0.38" stroke-linejoin="round"/>
<polygon points="219.09,340.66 229.27,340.91 229.27,345.36 219.09,345.36" fill="#1f78e6" stroke="#1f78e6" stroke-width="0.38" stroke-linejoin="round"/>
<polygon points="220.11,339.64 228,339 228.64,342.18 220.36,342.44" fill="#3fd21f" stroke="#3fd21f" stroke-width="0.38" stroke-linejoin="round"/>
<polygon points="222.91,329.64 235.64,330.27 236.27,346.18 223.55,346.18" fill="#3fd21f" stroke="#3fd21f" stroke-width="0.51" stroke-linejoin="round"/>
<polygon points="207.89,320.73 212.73,320.73 215.91,324.29 217.18,332.18 208.91,332.82" fill="#4fb6f2" stroke="#4fb6f2" stroke-width="0.51" stroke-linejoin="round"/>
<polygon points="210.82,327.09 217.82,327.09 218.07,331.16 211.2,331.16" fill="#f0c2ea" stroke="#f0c2ea" stroke-width="0.38" stroke-linejoin="round"/>
<polygon points="212.73,320.73 215.91,324.04 224.18,324.55 227.36,327.85 234.36,327.98 238.18,331.29 252.82,331.8 252.82,333.46 238.18,333.46 227.36,330.91 217.82,327.09 213.36,323.91" fill="#a01ed2" stroke="#a01ed2" stroke-width="0.38" stroke-linejoin="round"/>
<polygon points="220.36,324.55 224.18,324.8 227.36,328.11 234.36,328.36 236.91,330.65 229.27,329.64 222.91,327.09" fill="#3c0068" stroke="#3c0068" stroke-width="0.25" stroke-linejoin="round" opacity="0.85"/>
<polygon points="225.46,329.89 233.09,330.65 232.84,334.73 226.09,334.09" fill="#4fb6f2" stroke="#4fb6f2" stroke-width="0.51" stroke-linejoin="round"/>
<polygon points="207.64,332.82 222.91,332.18 229.91,337.91 229.27,342.62 219.09,343 207.64,337.27" fill="#ec6a0c" stroke="#ec6a0c" stroke-width="0.64" stroke-linejoin="round"/>
<polygon points="212.73,334.98 222.91,334.73 226.09,339.18 216.55,339.82" fill="#ffee00" stroke="#ffee00" stroke-width="0.51" stroke-linejoin="round"/>
<polygon points="232.46,332.18 250.91,332.44 250.91,339.82 238.18,340.07 231.82,336.64" fill="#f08a0c" stroke="#f08a0c" stroke-width="0.64" stroke-linejoin="round"/>
<polygon points="234.62,334.22 244.55,334.22 244.55,336.51 235,336.51" fill="#ffee00" stroke="#ffee00" stroke-width="0.38" stroke-linejoin="round"/>
<polygon points="248.62,331.93 253.46,331.93 253.46,345.55 249,346.18" fill="#3fd21f" stroke="#3fd21f" stroke-width="0.38" stroke-linejoin="round"/>
<polygon points="231.82,340.07 250.27,339.82 249.64,346.18 231.82,346.18" fill="#3fd21f" stroke="#3fd21f" stroke-width="0.38" stroke-linejoin="round"/>
<polygon points="234.62,340.84 249,340.84 248.36,345.16 235,345.16" fill="#4fb6f2" stroke="#4fb6f2" stroke-width="0.38" stroke-linejoin="round"/>
<ellipse cx="243.27" cy="342.36" rx="1.27" ry="1.27" fill="#f0c2ea"/>
<polygon points="235.64,341.35 240.73,341.35 240.47,344.66 235.89,344.66" fill="#1f78e6" stroke="#1f78e6" stroke-width="0.25" stroke-linejoin="round"/>
<polygon points="199.36,336.64 207,337.02 207.64,340.84 199.36,340.84" fill="#a01ed2" stroke="#a01ed2" stroke-width="0.38" stroke-linejoin="round"/>
<polygon points="207.64,337.53 213.36,338.29 219.09,342.11 218.45,345.93 209.55,345.67" fill="#4fb6f2" stroke="#4fb6f2" stroke-width="0.51" stroke-linejoin="round"/>
<ellipse cx="215.53" cy="342.11" rx="2.04" ry="2.04" fill="#3fd21f"/>
<ellipse cx="215.53" cy="342.11" rx="1.36" ry="1.36" fill="#f0c2ea"/>
<ellipse cx="215.53" cy="342.11" rx="0.68" ry="0.68" fill="#f0c2ea"/>
<polygon points="219.09,344.27 225.46,344.53 225.46,346.06 219.09,346.06" fill="#f0c2ea" stroke="#f0c2ea" stroke-width="0.25" stroke-linejoin="round"/>
<polygon points="226.98,338.55 232.84,339.18 232.46,345.93 227.36,345.93" fill="#1f78e6" stroke="#1f78e6" stroke-width="0.38" stroke-linejoin="round"/>
<polygon points="228.26,341.35 231.82,341.35 231.56,345.16 228.51,345.16" fill="#4fb6f2" stroke="#4fb6f2" stroke-width="0.25" stroke-linejoin="round"/>
<polygon points="205.09,320.73 208.65,320.73 209.16,332.82 207.64,341.09 205.35,339.82" fill="#3fd21f" stroke="#3fd21f" stroke-width="0.38" stroke-linejoin="round"/>
<ellipse cx="201.91" cy="330.65" rx="1.15" ry="1.15" fill="#f0c2ea"/>
<ellipse cx="201.91" cy="330.65" rx="0.57" ry="0.57" fill="#a01ed2"/>
</g>
</g>
<polygon points="81.23,275.8 86.61,278.55 121.77,279.82 135.6,293.77 140.4,294.62 146.65,300.75 151.93,302.02 156.73,306.03 161.54,306.67 165.86,310.26 174.99,310.47 176.91,313.01 186.03,313.43 188.44,316.18 197.27,317.24 200.73,320.72 211.49,320.94 215.62,324.42 223.31,324.85 226.86,327.91 233.39,328.23 237.24,331.82 252.8,332.25 252.8,342.18 249.63,346.2 211.78,346.2 205.73,343.56 193.24,342.29 188.92,340.28 187.48,336.16 177.87,335.63 177.87,332.88 170.66,332.14 170.66,328.76 163.27,328.76 162.69,332.46 139.44,327.81 115.43,323.79 92.56,317.55 85.17,312.9 69.7,302.02" fill="none" stroke="#2a2a1a" stroke-width="0.6" stroke-opacity="0.85"/>
<path d="M53.5 5.6V82.5H277.6" fill="none" stroke="#161616" stroke-width="1"/>
<path d="M50.3 36H53.5" stroke="#111" stroke-width="0.9"/>
<path d="M50.3 71.5H53.5" stroke="#111" stroke-width="0.9"/>
<path d="M81.3 82.5V84.1" stroke="#111" stroke-width="0.9"/>
<path d="M168.8 82.5V84.1" stroke="#111" stroke-width="0.9"/>
<path d="M255.8 82.5V84.1" stroke="#111" stroke-width="0.9"/>
<text x="6.85" y="40.05" class="yl" textLength="41.25" lengthAdjust="spacingAndGlyphs">2760250</text>
<text x="6.85" y="76.05" class="yl" textLength="41.25" lengthAdjust="spacingAndGlyphs">2760200</text>
<text x="62" y="90.3" class="xl" textLength="38.6" lengthAdjust="spacingAndGlyphs">677100</text>
<text x="149.5" y="90.3" class="xl" textLength="38.6" lengthAdjust="spacingAndGlyphs">677200</text>
<text x="236.5" y="90.3" class="xl" textLength="38.6" lengthAdjust="spacingAndGlyphs">677300</text>
<path d="M62.7 63V76.8H95.7" fill="none" stroke="#8a8a8a" stroke-width="0.8"/>
<path d="M60.4 64L62.7 61L65 64Z" fill="#111"/>
<path d="M94.7 75.3L99.7 76.8L94.7 78.3Z" fill="#111"/>
<text x="71" y="81.3" class="cp" textLength="22.6" lengthAdjust="spacingAndGlyphs">Easting</text>
<text transform="translate(60.3 77) rotate(-90)" class="cp" textLength="13.8" lengthAdjust="spacingAndGlyphs">Northing</text>
<rect x="246.4" y="5.6" width="21.2" height="10" fill="#fff" stroke="#777" stroke-width="0.7"/>
<text x="257" y="13.3" class="pl" text-anchor="middle">(a)</text>
<path d="M321.5 5.6V81.5H544" fill="none" stroke="#161616" stroke-width="1"/>
<path d="M318.3 36.5H321.5" stroke="#111" stroke-width="0.9"/>
<path d="M318.3 72H321.5" stroke="#111" stroke-width="0.9"/>
<path d="M349.4 81.5V83.1" stroke="#111" stroke-width="0.9"/>
<path d="M438 81.5V83.1" stroke="#111" stroke-width="0.9"/>
<path d="M526 81.5V83.1" stroke="#111" stroke-width="0.9"/>
<text x="273" y="40.55" class="yl" textLength="42" lengthAdjust="spacingAndGlyphs">2760250</text>
<text x="273" y="76.55" class="yl" textLength="42" lengthAdjust="spacingAndGlyphs">2760200</text>
<text x="330.1" y="89.2" class="xl" textLength="38.6" lengthAdjust="spacingAndGlyphs">677100</text>
<text x="418.7" y="89.2" class="xl" textLength="38.6" lengthAdjust="spacingAndGlyphs">677200</text>
<text x="506.7" y="89.2" class="xl" textLength="38.6" lengthAdjust="spacingAndGlyphs">677300</text>
<path d="M332.4 62V76H365" fill="none" stroke="#8a8a8a" stroke-width="0.8"/>
<path d="M330.1 63L332.4 60L334.7 63Z" fill="#111"/>
<path d="M364 74.5L369 76L364 77.5Z" fill="#111"/>
<text x="340.7" y="80.5" class="cp" textLength="22.6" lengthAdjust="spacingAndGlyphs">Easting</text>
<text transform="translate(330 76.2) rotate(-90)" class="cp" textLength="13.8" lengthAdjust="spacingAndGlyphs">Northing</text>
<rect x="522" y="5.4" width="21.6" height="10.4" fill="#fff" stroke="#777" stroke-width="0.7"/>
<text x="532.8" y="13.3" class="pl" text-anchor="middle">(b)</text>
<path d="M58.5 95V171.5H273.6" fill="none" stroke="#161616" stroke-width="1"/>
<path d="M55.3 126.4H58.5" stroke="#111" stroke-width="0.9"/>
<path d="M55.3 161.5H58.5" stroke="#111" stroke-width="0.9"/>
<path d="M85 171.5V173.1" stroke="#111" stroke-width="0.9"/>
<path d="M171.6 171.5V173.1" stroke="#111" stroke-width="0.9"/>
<path d="M257.4 171.5V173.1" stroke="#111" stroke-width="0.9"/>
<text x="12" y="130.55" class="yl" textLength="41" lengthAdjust="spacingAndGlyphs">2760250</text>
<text x="12" y="166.55" class="yl" textLength="41" lengthAdjust="spacingAndGlyphs">2760200</text>
<text x="65.7" y="178.8" class="xl" textLength="38.6" lengthAdjust="spacingAndGlyphs">677100</text>
<text x="152.3" y="178.8" class="xl" textLength="38.6" lengthAdjust="spacingAndGlyphs">677200</text>
<text x="238.1" y="178.8" class="xl" textLength="38.6" lengthAdjust="spacingAndGlyphs">677300</text>
<path d="M68 151V166H101" fill="none" stroke="#8a8a8a" stroke-width="0.8"/>
<path d="M65.7 152L68 149L70.3 152Z" fill="#111"/>
<path d="M100 164.5L105 166L100 167.5Z" fill="#111"/>
<text x="76.3" y="170.5" class="cp" textLength="22.6" lengthAdjust="spacingAndGlyphs">Easting</text>
<text transform="translate(65.6 166.2) rotate(-90)" class="cp" textLength="13.8" lengthAdjust="spacingAndGlyphs">Northing</text>
<rect x="246.4" y="95.3" width="20.8" height="10.1" fill="#fff" stroke="#777" stroke-width="0.7"/>
<text x="256.8" y="103.05" class="pl" text-anchor="middle">(c)</text>
<path d="M321.5 96V171.5H537" fill="none" stroke="#161616" stroke-width="1"/>
<path d="M318.3 126.6H321.5" stroke="#111" stroke-width="0.9"/>
<path d="M318.3 162.6H321.5" stroke="#111" stroke-width="0.9"/>
<path d="M347.5 171.5V173.1" stroke="#111" stroke-width="0.9"/>
<path d="M431.5 171.5V173.1" stroke="#111" stroke-width="0.9"/>
<path d="M515.6 171.5V173.1" stroke="#111" stroke-width="0.9"/>
<text x="275" y="131.15" class="yl" textLength="41" lengthAdjust="spacingAndGlyphs">2760250</text>
<text x="275" y="167.15" class="yl" textLength="41" lengthAdjust="spacingAndGlyphs">2760200</text>
<text x="328.2" y="179.2" class="xl" textLength="38.6" lengthAdjust="spacingAndGlyphs">677100</text>
<text x="412.2" y="179.2" class="xl" textLength="38.6" lengthAdjust="spacingAndGlyphs">677200</text>
<text x="496.3" y="179.2" class="xl" textLength="38.6" lengthAdjust="spacingAndGlyphs">677300</text>
<path d="M331 151V166H364" fill="none" stroke="#8a8a8a" stroke-width="0.8"/>
<path d="M328.7 152L331 149L333.3 152Z" fill="#111"/>
<path d="M363 164.5L368 166L363 167.5Z" fill="#111"/>
<text x="339.3" y="170.5" class="cp" textLength="22.6" lengthAdjust="spacingAndGlyphs">Easting</text>
<text transform="translate(328.6 166.2) rotate(-90)" class="cp" textLength="13.8" lengthAdjust="spacingAndGlyphs">Northing</text>
<rect x="523" y="95" width="20.6" height="9.4" fill="#fff" stroke="#777" stroke-width="0.7"/>
<text x="533.3" y="102.4" class="pl" text-anchor="middle">(d)</text>
<path d="M56.5 184.4V258.5H267.4" fill="none" stroke="#161616" stroke-width="1"/>
<path d="M53.3 213.6H56.5" stroke="#111" stroke-width="0.9"/>
<path d="M53.3 248.6H56.5" stroke="#111" stroke-width="0.9"/>
<path d="M83 258.5V260.1" stroke="#111" stroke-width="0.9"/>
<path d="M165 258.5V260.1" stroke="#111" stroke-width="0.9"/>
<path d="M247 258.5V260.1" stroke="#111" stroke-width="0.9"/>
<text x="12" y="217.95" class="yl" textLength="39" lengthAdjust="spacingAndGlyphs">2760250</text>
<text x="12" y="253.15" class="yl" textLength="39" lengthAdjust="spacingAndGlyphs">2760200</text>
<text x="63.7" y="267.4" class="xl" textLength="38.6" lengthAdjust="spacingAndGlyphs">677100</text>
<text x="145.7" y="267.4" class="xl" textLength="38.6" lengthAdjust="spacingAndGlyphs">677200</text>
<text x="227.7" y="267.4" class="xl" textLength="38.6" lengthAdjust="spacingAndGlyphs">677300</text>
<path d="M68 238V252.4H101" fill="none" stroke="#8a8a8a" stroke-width="0.8"/>
<path d="M65.7 239L68 236L70.3 239Z" fill="#111"/>
<path d="M100 250.9L105 252.4L100 253.9Z" fill="#111"/>
<text x="76.3" y="256.9" class="cp" textLength="22.6" lengthAdjust="spacingAndGlyphs">Easting</text>
<text transform="translate(65.6 252.6) rotate(-90)" class="cp" textLength="13.8" lengthAdjust="spacingAndGlyphs">Northing</text>
<rect x="245" y="184.4" width="21.6" height="9.6" fill="#fff" stroke="#777" stroke-width="0.7"/>
<text x="255.8" y="191.9" class="pl" text-anchor="middle">(e)</text>
<path d="M317.5 187.4V258.5H532" fill="none" stroke="#161616" stroke-width="1"/>
<path d="M314.3 216H317.5" stroke="#111" stroke-width="0.9"/>
<path d="M314.3 250.6H317.5" stroke="#111" stroke-width="0.9"/>
<path d="M344 258.5V260.1" stroke="#111" stroke-width="0.9"/>
<path d="M428 258.5V260.1" stroke="#111" stroke-width="0.9"/>
<path d="M512.4 258.5V260.1" stroke="#111" stroke-width="0.9"/>
<text x="272" y="220.55" class="yl" textLength="41" lengthAdjust="spacingAndGlyphs">2760250</text>
<text x="272" y="255.15" class="yl" textLength="41" lengthAdjust="spacingAndGlyphs">2760200</text>
<text x="324.7" y="266.8" class="xl" textLength="38.6" lengthAdjust="spacingAndGlyphs">677100</text>
<text x="408.7" y="266.8" class="xl" textLength="38.6" lengthAdjust="spacingAndGlyphs">677200</text>
<text x="493.1" y="266.8" class="xl" textLength="38.6" lengthAdjust="spacingAndGlyphs">677300</text>
<path d="M327 238V251.6H360" fill="none" stroke="#8a8a8a" stroke-width="0.8"/>
<path d="M324.7 239L327 236L329.3 239Z" fill="#111"/>
<path d="M359 250.1L364 251.6L359 253.1Z" fill="#111"/>
<text x="335.3" y="256.1" class="cp" textLength="22.6" lengthAdjust="spacingAndGlyphs">Easting</text>
<text transform="translate(324.6 251.8) rotate(-90)" class="cp" textLength="13.8" lengthAdjust="spacingAndGlyphs">Northing</text>
<rect x="521" y="184.4" width="22" height="9.6" fill="#fff" stroke="#777" stroke-width="0.7"/>
<text x="532" y="191.9" class="pl" text-anchor="middle">(f)</text>
<path d="M56.5 273V349.5H264" fill="none" stroke="#161616" stroke-width="1"/>
<path d="M53.3 304.6H56.5" stroke="#111" stroke-width="0.9"/>
<path d="M53.3 341.6H56.5" stroke="#111" stroke-width="0.9"/>
<path d="M83 349.5V351.1" stroke="#111" stroke-width="0.9"/>
<path d="M165.8 349.5V351.1" stroke="#111" stroke-width="0.9"/>
<path d="M248.6 349.5V351.1" stroke="#111" stroke-width="0.9"/>
<text x="11" y="309.15" class="yl" textLength="40" lengthAdjust="spacingAndGlyphs">2760250</text>
<text x="11" y="345.95" class="yl" textLength="40" lengthAdjust="spacingAndGlyphs">2760200</text>
<text x="63.7" y="357.2" class="xl" textLength="38.6" lengthAdjust="spacingAndGlyphs">677100</text>
<text x="146.5" y="357.2" class="xl" textLength="38.6" lengthAdjust="spacingAndGlyphs">677200</text>
<text x="229.3" y="357.2" class="xl" textLength="38.6" lengthAdjust="spacingAndGlyphs">677300</text>
<path d="M68 329V344H101" fill="none" stroke="#8a8a8a" stroke-width="0.8"/>
<path d="M65.7 330L68 327L70.3 330Z" fill="#111"/>
<path d="M100 342.5L105 344L100 345.5Z" fill="#111"/>
<text x="76.3" y="348.5" class="cp" textLength="22.6" lengthAdjust="spacingAndGlyphs">Easting</text>
<text transform="translate(65.6 344.2) rotate(-90)" class="cp" textLength="13.8" lengthAdjust="spacingAndGlyphs">Northing</text>
<rect x="245" y="273" width="21" height="10" fill="#fff" stroke="#777" stroke-width="0.7"/>
<text x="255.5" y="280.7" class="pl" text-anchor="middle">(g)</text>
<rect x="544.4" y="83" width="6" height="9" fill="#fff"/>
<rect x="267.8" y="275.6" width="18.2" height="73.6" fill="url(#lg)"/>
<text transform="translate(291 276.4) rotate(0.05) scale(2.3 1.05)" class="lg">High : 3</text>
<text transform="translate(291 280.1) rotate(0.05) scale(2.3 1.05)" class="lg">2.85</text>
<text transform="translate(291 283.8) rotate(0.05) scale(2.3 1.05)" class="lg">2.7</text>
<text transform="translate(291 287.5) rotate(0.05) scale(2.3 1.05)" class="lg">2.55</text>
<text transform="translate(291 291.2) rotate(0.05) scale(2.3 1.05)" class="lg">2.4</text>
<text transform="translate(291 294.9) rotate(0.05) scale(2.3 1.05)" class="lg">2.25</text>
<text transform="translate(291 298.6) rotate(0.05) scale(2.3 1.05)" class="lg">2.1</text>
<text transform="translate(291 302.3) rotate(0.05) scale(2.3 1.05)" class="lg">1.95</text>
<text transform="translate(291 306) rotate(0.05) scale(2.3 1.05)" class="lg">1.8</text>
<text transform="translate(291 309.7) rotate(0.05) scale(2.3 1.05)" class="lg">1.65</text>
<text transform="translate(291 313.4) rotate(0.05) scale(2.3 1.05)" class="lg">1.5</text>
<text transform="translate(291 317.1) rotate(0.05) scale(2.3 1.05)" class="lg">1.35</text>
<text transform="translate(291 320.8) rotate(0.05) scale(2.3 1.05)" class="lg">1.2</text>
<text transform="translate(291 324.5) rotate(0.05) scale(2.3 1.05)" class="lg">1.05</text>
<text transform="translate(291 328.2) rotate(0.05) scale(2.3 1.05)" class="lg">0.9</text>
<text transform="translate(291 331.9) rotate(0.05) scale(2.3 1.05)" class="lg">0.75</text>
<text transform="translate(291 335.6) rotate(0.05) scale(2.3 1.05)" class="lg">0.6</text>
<text transform="translate(291 339.3) rotate(0.05) scale(2.3 1.05)" class="lg">0.45</text>
<text transform="translate(291 343) rotate(0.05) scale(2.3 1.05)" class="lg">0.3</text>
<text transform="translate(291 346.7) rotate(0.05) scale(2.3 1.05)" class="lg">0.15</text>
<text transform="translate(291 350.4) rotate(0.05) scale(2.3 1.05)" class="lg">Low : 0</text>
</svg>
</body></html>
